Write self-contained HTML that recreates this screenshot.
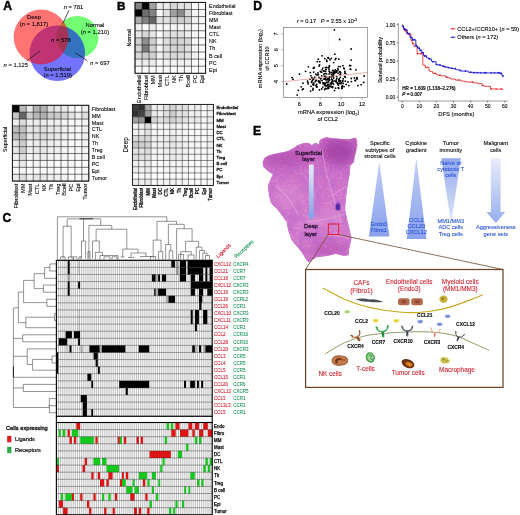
<!DOCTYPE html>
<html><head><meta charset="utf-8"><title>Figure</title>
<style>
html,body{margin:0;padding:0;background:#fff;}
body{width:520px;height:515px;overflow:hidden;font-family:"Liberation Sans",sans-serif;}
svg{display:block;font-family:"Liberation Sans",sans-serif;}
</style></head><body>
<svg width="520" height="515" viewBox="0 0 520 515">
<rect width="520" height="515" fill="#fff"/>
<g id="venn">
<circle cx="77.4" cy="37.1" r="21.1" fill="#00ff00" fill-opacity="0.55"/>
<circle cx="57.3" cy="53.2" r="27.8" fill="#0000ff" fill-opacity="0.55"/>
<circle cx="41.1" cy="37" r="27.4" fill="#ff0000" fill-opacity="0.55"/>
<g stroke="#111" stroke-width="0.7"><line x1="69" y1="10.2" x2="62.9" y2="23.3"/><line x1="26.6" y1="61" x2="40" y2="51"/><line x1="87.4" y1="60.7" x2="75.1" y2="52.6"/></g>
<text x="34.0" y="18.9" font-size="5.85" text-anchor="middle" stroke="#111" stroke-width="0.1">Deep</text>
<text x="34.0" y="26.2" font-size="5.85" text-anchor="middle" stroke="#111" stroke-width="0.1">(<tspan font-style="italic">n</tspan> = 1,817)</text>
<text x="94.9" y="26.6" font-size="5.85" text-anchor="middle" stroke="#111" stroke-width="0.1">Normal</text>
<text x="94.9" y="33.7" font-size="5.85" text-anchor="middle" stroke="#111" stroke-width="0.1">(<tspan font-style="italic">n</tspan> = 1,210)</text>
<text x="73.5" y="9.1" font-size="5.85" text-anchor="middle" stroke="#111" stroke-width="0.1"><tspan font-style="italic">n</tspan> = 781</text>
<text x="60.9" y="41.8" font-size="5.85" text-anchor="middle" stroke="#111" stroke-width="0.1"><tspan font-style="italic">n</tspan> = 578</text>
<text x="57.5" y="70.5" font-size="5.85" text-anchor="middle" stroke="#111" stroke-width="0.1">Superficial</text>
<text x="57.7" y="77.2" font-size="5.85" text-anchor="middle" stroke="#111" stroke-width="0.1">(<tspan font-style="italic">n</tspan> = 1,519)</text>
<text x="3.5" y="67.0" font-size="5.85" stroke="#111" stroke-width="0.1"><tspan font-style="italic">n</tspan> = 1,125</text>
<text x="90.1" y="65.1" font-size="5.85" stroke="#111" stroke-width="0.1"><tspan font-style="italic">n</tspan> = 697</text>
</g>
<g>
<rect x="135.00" y="2.40" width="7.06" height="7.09" fill="#828282"/>
<rect x="142.06" y="2.40" width="7.06" height="7.09" fill="#000000"/>
<rect x="149.12" y="2.40" width="7.06" height="7.09" fill="#a0a0a0"/>
<rect x="156.18" y="2.40" width="7.06" height="7.09" fill="#ebebeb"/>
<rect x="163.24" y="2.40" width="7.06" height="7.09" fill="#ebebeb"/>
<rect x="170.30" y="2.40" width="7.06" height="7.09" fill="#d7d7d7"/>
<rect x="177.36" y="2.40" width="7.06" height="7.09" fill="#e1e1e1"/>
<rect x="184.42" y="2.40" width="7.06" height="7.09" fill="#e1e1e1"/>
<rect x="191.48" y="2.40" width="7.06" height="7.09" fill="#fafafa"/>
<rect x="198.54" y="2.40" width="7.06" height="7.09" fill="#fafafa"/>
<rect x="135.00" y="9.49" width="7.06" height="7.09" fill="#000000"/>
<rect x="142.06" y="9.49" width="7.06" height="7.09" fill="#6e6e6e"/>
<rect x="149.12" y="9.49" width="7.06" height="7.09" fill="#828282"/>
<rect x="156.18" y="9.49" width="7.06" height="7.09" fill="#fafafa"/>
<rect x="163.24" y="9.49" width="7.06" height="7.09" fill="#e1e1e1"/>
<rect x="170.30" y="9.49" width="7.06" height="7.09" fill="#a0a0a0"/>
<rect x="177.36" y="9.49" width="7.06" height="7.09" fill="#8c8c8c"/>
<rect x="184.42" y="9.49" width="7.06" height="7.09" fill="#d7d7d7"/>
<rect x="191.48" y="9.49" width="7.06" height="7.09" fill="#f5f5f5"/>
<rect x="198.54" y="9.49" width="7.06" height="7.09" fill="#f5f5f5"/>
<rect x="135.00" y="16.58" width="7.06" height="7.09" fill="#aaaaaa"/>
<rect x="142.06" y="16.58" width="7.06" height="7.09" fill="#828282"/>
<rect x="149.12" y="16.58" width="7.06" height="7.09" fill="#646464"/>
<rect x="156.18" y="16.58" width="7.06" height="7.09" fill="#e1e1e1"/>
<rect x="163.24" y="16.58" width="7.06" height="7.09" fill="#e1e1e1"/>
<rect x="170.30" y="16.58" width="7.06" height="7.09" fill="#cdcdcd"/>
<rect x="177.36" y="16.58" width="7.06" height="7.09" fill="#cdcdcd"/>
<rect x="184.42" y="16.58" width="7.06" height="7.09" fill="#d2d2d2"/>
<rect x="191.48" y="16.58" width="7.06" height="7.09" fill="#f0f0f0"/>
<rect x="198.54" y="16.58" width="7.06" height="7.09" fill="#f5f5f5"/>
<rect x="135.00" y="23.67" width="7.06" height="7.09" fill="#f0f0f0"/>
<rect x="142.06" y="23.67" width="7.06" height="7.09" fill="#fafafa"/>
<rect x="149.12" y="23.67" width="7.06" height="7.09" fill="#ebebeb"/>
<rect x="156.18" y="23.67" width="7.06" height="7.09" fill="#fafafa"/>
<rect x="163.24" y="23.67" width="7.06" height="7.09" fill="#f5f5f5"/>
<rect x="170.30" y="23.67" width="7.06" height="7.09" fill="#f5f5f5"/>
<rect x="177.36" y="23.67" width="7.06" height="7.09" fill="#f5f5f5"/>
<rect x="184.42" y="23.67" width="7.06" height="7.09" fill="#f0f0f0"/>
<rect x="191.48" y="23.67" width="7.06" height="7.09" fill="#fafafa"/>
<rect x="198.54" y="23.67" width="7.06" height="7.09" fill="#fafafa"/>
<rect x="135.00" y="30.76" width="7.06" height="7.09" fill="#e6e6e6"/>
<rect x="142.06" y="30.76" width="7.06" height="7.09" fill="#d7d7d7"/>
<rect x="149.12" y="30.76" width="7.06" height="7.09" fill="#e6e6e6"/>
<rect x="156.18" y="30.76" width="7.06" height="7.09" fill="#fafafa"/>
<rect x="163.24" y="30.76" width="7.06" height="7.09" fill="#e6e6e6"/>
<rect x="170.30" y="30.76" width="7.06" height="7.09" fill="#e1e1e1"/>
<rect x="177.36" y="30.76" width="7.06" height="7.09" fill="#e1e1e1"/>
<rect x="184.42" y="30.76" width="7.06" height="7.09" fill="#ebebeb"/>
<rect x="191.48" y="30.76" width="7.06" height="7.09" fill="#f5f5f5"/>
<rect x="198.54" y="30.76" width="7.06" height="7.09" fill="#fafafa"/>
<rect x="135.00" y="37.85" width="7.06" height="7.09" fill="#d0d0d0"/>
<rect x="142.06" y="37.85" width="7.06" height="7.09" fill="#8e8e8e"/>
<rect x="149.12" y="37.85" width="7.06" height="7.09" fill="#d0d0d0"/>
<rect x="156.18" y="37.85" width="7.06" height="7.09" fill="#f5f5f5"/>
<rect x="163.24" y="37.85" width="7.06" height="7.09" fill="#dedede"/>
<rect x="170.30" y="37.85" width="7.06" height="7.09" fill="#d0d0d0"/>
<rect x="177.36" y="37.85" width="7.06" height="7.09" fill="#d4d4d4"/>
<rect x="184.42" y="37.85" width="7.06" height="7.09" fill="#d6d6d6"/>
<rect x="191.48" y="37.85" width="7.06" height="7.09" fill="#f5f5f5"/>
<rect x="198.54" y="37.85" width="7.06" height="7.09" fill="#fafafa"/>
<rect x="135.00" y="44.94" width="7.06" height="7.09" fill="#d4d4d4"/>
<rect x="142.06" y="44.94" width="7.06" height="7.09" fill="#7a7a7a"/>
<rect x="149.12" y="44.94" width="7.06" height="7.09" fill="#d0d0d0"/>
<rect x="156.18" y="44.94" width="7.06" height="7.09" fill="#f5f5f5"/>
<rect x="163.24" y="44.94" width="7.06" height="7.09" fill="#dedede"/>
<rect x="170.30" y="44.94" width="7.06" height="7.09" fill="#d4d4d4"/>
<rect x="177.36" y="44.94" width="7.06" height="7.09" fill="#d4d4d4"/>
<rect x="184.42" y="44.94" width="7.06" height="7.09" fill="#dedede"/>
<rect x="191.48" y="44.94" width="7.06" height="7.09" fill="#f5f5f5"/>
<rect x="198.54" y="44.94" width="7.06" height="7.09" fill="#fafafa"/>
<rect x="135.00" y="52.03" width="7.06" height="7.09" fill="#d7d7d7"/>
<rect x="142.06" y="52.03" width="7.06" height="7.09" fill="#cdcdcd"/>
<rect x="149.12" y="52.03" width="7.06" height="7.09" fill="#d2d2d2"/>
<rect x="156.18" y="52.03" width="7.06" height="7.09" fill="#f0f0f0"/>
<rect x="163.24" y="52.03" width="7.06" height="7.09" fill="#e1e1e1"/>
<rect x="170.30" y="52.03" width="7.06" height="7.09" fill="#d7d7d7"/>
<rect x="177.36" y="52.03" width="7.06" height="7.09" fill="#dcdcdc"/>
<rect x="184.42" y="52.03" width="7.06" height="7.09" fill="#e1e1e1"/>
<rect x="191.48" y="52.03" width="7.06" height="7.09" fill="#f0f0f0"/>
<rect x="198.54" y="52.03" width="7.06" height="7.09" fill="#fafafa"/>
<rect x="135.00" y="59.12" width="7.06" height="7.09" fill="#f0f0f0"/>
<rect x="142.06" y="59.12" width="7.06" height="7.09" fill="#ebebeb"/>
<rect x="149.12" y="59.12" width="7.06" height="7.09" fill="#ebebeb"/>
<rect x="156.18" y="59.12" width="7.06" height="7.09" fill="#fafafa"/>
<rect x="163.24" y="59.12" width="7.06" height="7.09" fill="#f0f0f0"/>
<rect x="170.30" y="59.12" width="7.06" height="7.09" fill="#f0f0f0"/>
<rect x="177.36" y="59.12" width="7.06" height="7.09" fill="#f0f0f0"/>
<rect x="184.42" y="59.12" width="7.06" height="7.09" fill="#f0f0f0"/>
<rect x="191.48" y="59.12" width="7.06" height="7.09" fill="#fafafa"/>
<rect x="198.54" y="59.12" width="7.06" height="7.09" fill="#fafafa"/>
<rect x="135.00" y="66.21" width="7.06" height="7.09" fill="#fafafa"/>
<rect x="142.06" y="66.21" width="7.06" height="7.09" fill="#fafafa"/>
<rect x="149.12" y="66.21" width="7.06" height="7.09" fill="#fafafa"/>
<rect x="163.24" y="66.21" width="7.06" height="7.09" fill="#fafafa"/>
<rect x="170.30" y="66.21" width="7.06" height="7.09" fill="#fafafa"/>
<rect x="177.36" y="66.21" width="7.06" height="7.09" fill="#fafafa"/>
<rect x="184.42" y="66.21" width="7.06" height="7.09" fill="#fafafa"/>
<path d="M135.00 2.40V73.30M135.00 2.40H205.60M142.06 2.40V73.30M135.00 9.49H205.60M149.12 2.40V73.30M135.00 16.58H205.60M156.18 2.40V73.30M135.00 23.67H205.60M163.24 2.40V73.30M135.00 30.76H205.60M170.30 2.40V73.30M135.00 37.85H205.60M177.36 2.40V73.30M135.00 44.94H205.60M184.42 2.40V73.30M135.00 52.03H205.60M191.48 2.40V73.30M135.00 59.12H205.60M198.54 2.40V73.30M135.00 66.21H205.60M205.60 2.40V73.30M135.00 73.30H205.60" stroke="#1a1a1a" stroke-width="0.6" fill="none"/>
<rect x="135.00" y="2.40" width="70.60" height="70.90" fill="none" stroke="#111" stroke-width="0.8999999999999999"/>
<text x="209.1" y="7.9" font-size="5.35" stroke="#111" stroke-width="0.1">Endothelial</text>
<text x="209.1" y="15.0" font-size="5.35" stroke="#111" stroke-width="0.1">Fibroblast</text>
<text x="209.1" y="22.1" font-size="5.35" stroke="#111" stroke-width="0.1">MM</text>
<text x="209.1" y="29.1" font-size="5.35" stroke="#111" stroke-width="0.1">Mast</text>
<text x="209.1" y="36.2" font-size="5.35" stroke="#111" stroke-width="0.1">CTL</text>
<text x="209.1" y="43.3" font-size="5.35" stroke="#111" stroke-width="0.1">NK</text>
<text x="209.1" y="50.4" font-size="5.35" stroke="#111" stroke-width="0.1">Th</text>
<text x="209.1" y="57.5" font-size="5.35" stroke="#111" stroke-width="0.1">B cell</text>
<text x="209.1" y="64.6" font-size="5.35" stroke="#111" stroke-width="0.1">PC</text>
<text x="209.1" y="71.7" font-size="5.35" stroke="#111" stroke-width="0.1">Epi</text>
<text x="140.6" y="75.2" font-size="5.65" text-anchor="end" transform="rotate(-90 140.6 75.2)" stroke="#111" stroke-width="0.1">Endothelial</text>
<text x="147.6" y="75.2" font-size="5.65" text-anchor="end" transform="rotate(-90 147.6 75.2)" stroke="#111" stroke-width="0.1">Fibroblast</text>
<text x="154.7" y="75.2" font-size="5.65" text-anchor="end" transform="rotate(-90 154.7 75.2)" stroke="#111" stroke-width="0.1">MM</text>
<text x="161.7" y="75.2" font-size="5.65" text-anchor="end" transform="rotate(-90 161.7 75.2)" stroke="#111" stroke-width="0.1">Mast</text>
<text x="168.8" y="75.2" font-size="5.65" text-anchor="end" transform="rotate(-90 168.8 75.2)" stroke="#111" stroke-width="0.1">CTL</text>
<text x="175.9" y="75.2" font-size="5.65" text-anchor="end" transform="rotate(-90 175.9 75.2)" stroke="#111" stroke-width="0.1">NK</text>
<text x="182.9" y="75.2" font-size="5.65" text-anchor="end" transform="rotate(-90 182.9 75.2)" stroke="#111" stroke-width="0.1">Th</text>
<text x="190.0" y="75.2" font-size="5.65" text-anchor="end" transform="rotate(-90 190.0 75.2)" stroke="#111" stroke-width="0.1">Bcell</text>
<text x="197.0" y="75.2" font-size="5.65" text-anchor="end" transform="rotate(-90 197.0 75.2)" stroke="#111" stroke-width="0.1">PC</text>
<text x="204.1" y="75.2" font-size="5.65" text-anchor="end" transform="rotate(-90 204.1 75.2)" stroke="#111" stroke-width="0.1">Epi</text>
<text x="130.6" y="37.9" font-size="5.4" text-anchor="middle" transform="rotate(-90 130.6 37.9)" stroke="#111" stroke-width="0.1">Normal</text>
</g>
<g>
<rect x="12.40" y="105.30" width="6.95" height="6.89" fill="#000000"/>
<rect x="19.35" y="105.30" width="6.95" height="6.89" fill="#b9b9b9"/>
<rect x="26.29" y="105.30" width="6.95" height="6.89" fill="#e8e8e8"/>
<rect x="33.24" y="105.30" width="6.95" height="6.89" fill="#b2b2b2"/>
<rect x="40.18" y="105.30" width="6.95" height="6.89" fill="#b4b4b4"/>
<rect x="47.13" y="105.30" width="6.95" height="6.89" fill="#dedede"/>
<rect x="54.07" y="105.30" width="6.95" height="6.89" fill="#e6e6e6"/>
<rect x="61.02" y="105.30" width="6.95" height="6.89" fill="#ececec"/>
<rect x="67.96" y="105.30" width="6.95" height="6.89" fill="#f5f5f5"/>
<rect x="74.91" y="105.30" width="6.95" height="6.89" fill="#fafafa"/>
<rect x="81.85" y="105.30" width="6.95" height="6.89" fill="#eeeeee"/>
<rect x="12.40" y="112.19" width="6.95" height="6.89" fill="#c6c6c6"/>
<rect x="19.35" y="112.19" width="6.95" height="6.89" fill="#646464"/>
<rect x="26.29" y="112.19" width="6.95" height="6.89" fill="#cdcdcd"/>
<rect x="33.24" y="112.19" width="6.95" height="6.89" fill="#b6b6b6"/>
<rect x="40.18" y="112.19" width="6.95" height="6.89" fill="#b0b0b0"/>
<rect x="47.13" y="112.19" width="6.95" height="6.89" fill="#cacaca"/>
<rect x="54.07" y="112.19" width="6.95" height="6.89" fill="#cacaca"/>
<rect x="61.02" y="112.19" width="6.95" height="6.89" fill="#d8d8d8"/>
<rect x="67.96" y="112.19" width="6.95" height="6.89" fill="#e4e4e4"/>
<rect x="74.91" y="112.19" width="6.95" height="6.89" fill="#eeeeee"/>
<rect x="81.85" y="112.19" width="6.95" height="6.89" fill="#dedede"/>
<rect x="12.40" y="119.08" width="6.95" height="6.89" fill="#f0f0f0"/>
<rect x="19.35" y="119.08" width="6.95" height="6.89" fill="#dadada"/>
<rect x="26.29" y="119.08" width="6.95" height="6.89" fill="#f0f0f0"/>
<rect x="33.24" y="119.08" width="6.95" height="6.89" fill="#eeeeee"/>
<rect x="40.18" y="119.08" width="6.95" height="6.89" fill="#eaeaea"/>
<rect x="47.13" y="119.08" width="6.95" height="6.89" fill="#f0f0f0"/>
<rect x="54.07" y="119.08" width="6.95" height="6.89" fill="#f0f0f0"/>
<rect x="61.02" y="119.08" width="6.95" height="6.89" fill="#f5f5f5"/>
<rect x="67.96" y="119.08" width="6.95" height="6.89" fill="#fafafa"/>
<rect x="74.91" y="119.08" width="6.95" height="6.89" fill="#fafafa"/>
<rect x="81.85" y="119.08" width="6.95" height="6.89" fill="#f5f5f5"/>
<rect x="12.40" y="125.97" width="6.95" height="6.89" fill="#bababa"/>
<rect x="19.35" y="125.97" width="6.95" height="6.89" fill="#c0c0c0"/>
<rect x="26.29" y="125.97" width="6.95" height="6.89" fill="#e8e8e8"/>
<rect x="33.24" y="125.97" width="6.95" height="6.89" fill="#e2e2e2"/>
<rect x="40.18" y="125.97" width="6.95" height="6.89" fill="#dedede"/>
<rect x="47.13" y="125.97" width="6.95" height="6.89" fill="#e8e8e8"/>
<rect x="54.07" y="125.97" width="6.95" height="6.89" fill="#eaeaea"/>
<rect x="61.02" y="125.97" width="6.95" height="6.89" fill="#f0f0f0"/>
<rect x="67.96" y="125.97" width="6.95" height="6.89" fill="#f5f5f5"/>
<rect x="74.91" y="125.97" width="6.95" height="6.89" fill="#fafafa"/>
<rect x="81.85" y="125.97" width="6.95" height="6.89" fill="#f0f0f0"/>
<rect x="12.40" y="132.86" width="6.95" height="6.89" fill="#bababa"/>
<rect x="19.35" y="132.86" width="6.95" height="6.89" fill="#bebebe"/>
<rect x="26.29" y="132.86" width="6.95" height="6.89" fill="#e8e8e8"/>
<rect x="33.24" y="132.86" width="6.95" height="6.89" fill="#dedede"/>
<rect x="40.18" y="132.86" width="6.95" height="6.89" fill="#dadada"/>
<rect x="47.13" y="132.86" width="6.95" height="6.89" fill="#e4e4e4"/>
<rect x="54.07" y="132.86" width="6.95" height="6.89" fill="#e8e8e8"/>
<rect x="61.02" y="132.86" width="6.95" height="6.89" fill="#eeeeee"/>
<rect x="67.96" y="132.86" width="6.95" height="6.89" fill="#f5f5f5"/>
<rect x="74.91" y="132.86" width="6.95" height="6.89" fill="#fafafa"/>
<rect x="81.85" y="132.86" width="6.95" height="6.89" fill="#f0f0f0"/>
<rect x="12.40" y="139.75" width="6.95" height="6.89" fill="#e1e1e1"/>
<rect x="19.35" y="139.75" width="6.95" height="6.89" fill="#cccccc"/>
<rect x="26.29" y="139.75" width="6.95" height="6.89" fill="#f0f0f0"/>
<rect x="33.24" y="139.75" width="6.95" height="6.89" fill="#eaeaea"/>
<rect x="40.18" y="139.75" width="6.95" height="6.89" fill="#e6e6e6"/>
<rect x="47.13" y="139.75" width="6.95" height="6.89" fill="#eeeeee"/>
<rect x="54.07" y="139.75" width="6.95" height="6.89" fill="#f0f0f0"/>
<rect x="61.02" y="139.75" width="6.95" height="6.89" fill="#f5f5f5"/>
<rect x="67.96" y="139.75" width="6.95" height="6.89" fill="#fafafa"/>
<rect x="74.91" y="139.75" width="6.95" height="6.89" fill="#fafafa"/>
<rect x="81.85" y="139.75" width="6.95" height="6.89" fill="#f5f5f5"/>
<rect x="12.40" y="146.65" width="6.95" height="6.89" fill="#e4e4e4"/>
<rect x="19.35" y="146.65" width="6.95" height="6.89" fill="#cccccc"/>
<rect x="26.29" y="146.65" width="6.95" height="6.89" fill="#f0f0f0"/>
<rect x="33.24" y="146.65" width="6.95" height="6.89" fill="#eaeaea"/>
<rect x="40.18" y="146.65" width="6.95" height="6.89" fill="#e8e8e8"/>
<rect x="47.13" y="146.65" width="6.95" height="6.89" fill="#eeeeee"/>
<rect x="54.07" y="146.65" width="6.95" height="6.89" fill="#f0f0f0"/>
<rect x="61.02" y="146.65" width="6.95" height="6.89" fill="#f5f5f5"/>
<rect x="67.96" y="146.65" width="6.95" height="6.89" fill="#fafafa"/>
<rect x="74.91" y="146.65" width="6.95" height="6.89" fill="#fafafa"/>
<rect x="81.85" y="146.65" width="6.95" height="6.89" fill="#f5f5f5"/>
<rect x="12.40" y="153.54" width="6.95" height="6.89" fill="#f0f0f0"/>
<rect x="19.35" y="153.54" width="6.95" height="6.89" fill="#dedede"/>
<rect x="26.29" y="153.54" width="6.95" height="6.89" fill="#f5f5f5"/>
<rect x="33.24" y="153.54" width="6.95" height="6.89" fill="#f0f0f0"/>
<rect x="40.18" y="153.54" width="6.95" height="6.89" fill="#eeeeee"/>
<rect x="47.13" y="153.54" width="6.95" height="6.89" fill="#f4f4f4"/>
<rect x="54.07" y="153.54" width="6.95" height="6.89" fill="#f5f5f5"/>
<rect x="61.02" y="153.54" width="6.95" height="6.89" fill="#f5f5f5"/>
<rect x="67.96" y="153.54" width="6.95" height="6.89" fill="#fafafa"/>
<rect x="74.91" y="153.54" width="6.95" height="6.89" fill="#fafafa"/>
<rect x="81.85" y="153.54" width="6.95" height="6.89" fill="#f5f5f5"/>
<rect x="12.40" y="160.43" width="6.95" height="6.89" fill="#f5f5f5"/>
<rect x="19.35" y="160.43" width="6.95" height="6.89" fill="#eaeaea"/>
<rect x="26.29" y="160.43" width="6.95" height="6.89" fill="#fafafa"/>
<rect x="33.24" y="160.43" width="6.95" height="6.89" fill="#f5f5f5"/>
<rect x="40.18" y="160.43" width="6.95" height="6.89" fill="#f5f5f5"/>
<rect x="47.13" y="160.43" width="6.95" height="6.89" fill="#fafafa"/>
<rect x="54.07" y="160.43" width="6.95" height="6.89" fill="#fafafa"/>
<rect x="61.02" y="160.43" width="6.95" height="6.89" fill="#fafafa"/>
<rect x="67.96" y="160.43" width="6.95" height="6.89" fill="#fafafa"/>
<rect x="81.85" y="160.43" width="6.95" height="6.89" fill="#fafafa"/>
<rect x="12.40" y="167.32" width="6.95" height="6.89" fill="#fafafa"/>
<rect x="19.35" y="167.32" width="6.95" height="6.89" fill="#f4f4f4"/>
<rect x="26.29" y="167.32" width="6.95" height="6.89" fill="#fafafa"/>
<rect x="33.24" y="167.32" width="6.95" height="6.89" fill="#fafafa"/>
<rect x="40.18" y="167.32" width="6.95" height="6.89" fill="#fafafa"/>
<rect x="47.13" y="167.32" width="6.95" height="6.89" fill="#fafafa"/>
<rect x="54.07" y="167.32" width="6.95" height="6.89" fill="#fafafa"/>
<rect x="61.02" y="167.32" width="6.95" height="6.89" fill="#fafafa"/>
<rect x="81.85" y="167.32" width="6.95" height="6.89" fill="#fafafa"/>
<rect x="12.40" y="174.21" width="6.95" height="6.89" fill="#eaeaea"/>
<rect x="19.35" y="174.21" width="6.95" height="6.89" fill="#dedede"/>
<rect x="26.29" y="174.21" width="6.95" height="6.89" fill="#f0f0f0"/>
<rect x="33.24" y="174.21" width="6.95" height="6.89" fill="#e6e6e6"/>
<rect x="40.18" y="174.21" width="6.95" height="6.89" fill="#e8e8e8"/>
<rect x="47.13" y="174.21" width="6.95" height="6.89" fill="#eeeeee"/>
<rect x="54.07" y="174.21" width="6.95" height="6.89" fill="#f0f0f0"/>
<rect x="61.02" y="174.21" width="6.95" height="6.89" fill="#f4f4f4"/>
<rect x="67.96" y="174.21" width="6.95" height="6.89" fill="#fafafa"/>
<rect x="74.91" y="174.21" width="6.95" height="6.89" fill="#fafafa"/>
<rect x="81.85" y="174.21" width="6.95" height="6.89" fill="#f0f0f0"/>
<path d="M12.40 105.30V181.10M12.40 105.30H88.80M19.35 105.30V181.10M12.40 112.19H88.80M26.29 105.30V181.10M12.40 119.08H88.80M33.24 105.30V181.10M12.40 125.97H88.80M40.18 105.30V181.10M12.40 132.86H88.80M47.13 105.30V181.10M12.40 139.75H88.80M54.07 105.30V181.10M12.40 146.65H88.80M61.02 105.30V181.10M12.40 153.54H88.80M67.96 105.30V181.10M12.40 160.43H88.80M74.91 105.30V181.10M12.40 167.32H88.80M81.85 105.30V181.10M12.40 174.21H88.80M88.80 105.30V181.10M12.40 181.10H88.80" stroke="#1a1a1a" stroke-width="0.6" fill="none"/>
<rect x="12.40" y="105.30" width="76.40" height="75.80" fill="none" stroke="#111" stroke-width="0.8999999999999999"/>
<text x="91.8" y="110.7" font-size="5.35" stroke="#111" stroke-width="0.1">Fibroblast</text>
<text x="91.8" y="117.6" font-size="5.35" stroke="#111" stroke-width="0.1">MM</text>
<text x="91.8" y="124.5" font-size="5.35" stroke="#111" stroke-width="0.1">Mast</text>
<text x="91.8" y="131.3" font-size="5.35" stroke="#111" stroke-width="0.1">CTL</text>
<text x="91.8" y="138.2" font-size="5.35" stroke="#111" stroke-width="0.1">NK</text>
<text x="91.8" y="145.1" font-size="5.35" stroke="#111" stroke-width="0.1">Th</text>
<text x="91.8" y="152.0" font-size="5.35" stroke="#111" stroke-width="0.1">Treg</text>
<text x="91.8" y="158.9" font-size="5.35" stroke="#111" stroke-width="0.1">B cell</text>
<text x="91.8" y="165.8" font-size="5.35" stroke="#111" stroke-width="0.1">PC</text>
<text x="91.8" y="172.7" font-size="5.35" stroke="#111" stroke-width="0.1">Epi</text>
<text x="91.8" y="179.6" font-size="5.35" stroke="#111" stroke-width="0.1">Tumor</text>
<text x="17.9" y="183.6" font-size="5.65" text-anchor="end" transform="rotate(-90 17.9 183.6)" stroke="#111" stroke-width="0.1">Fibroblast</text>
<text x="24.9" y="183.6" font-size="5.65" text-anchor="end" transform="rotate(-90 24.9 183.6)" stroke="#111" stroke-width="0.1">MM</text>
<text x="31.8" y="183.6" font-size="5.65" text-anchor="end" transform="rotate(-90 31.8 183.6)" stroke="#111" stroke-width="0.1">Mast</text>
<text x="38.7" y="183.6" font-size="5.65" text-anchor="end" transform="rotate(-90 38.7 183.6)" stroke="#111" stroke-width="0.1">CTL</text>
<text x="45.7" y="183.6" font-size="5.65" text-anchor="end" transform="rotate(-90 45.7 183.6)" stroke="#111" stroke-width="0.1">NK</text>
<text x="52.6" y="183.6" font-size="5.65" text-anchor="end" transform="rotate(-90 52.6 183.6)" stroke="#111" stroke-width="0.1">Th</text>
<text x="59.6" y="183.6" font-size="5.65" text-anchor="end" transform="rotate(-90 59.6 183.6)" stroke="#111" stroke-width="0.1">Treg</text>
<text x="66.5" y="183.6" font-size="5.65" text-anchor="end" transform="rotate(-90 66.5 183.6)" stroke="#111" stroke-width="0.1">Bcell</text>
<text x="73.5" y="183.6" font-size="5.65" text-anchor="end" transform="rotate(-90 73.5 183.6)" stroke="#111" stroke-width="0.1">PC</text>
<text x="80.4" y="183.6" font-size="5.65" text-anchor="end" transform="rotate(-90 80.4 183.6)" stroke="#111" stroke-width="0.1">Epi</text>
<text x="87.4" y="183.6" font-size="5.65" text-anchor="end" transform="rotate(-90 87.4 183.6)" stroke="#111" stroke-width="0.1">Tumor</text>
<text x="6.6" y="139.3" font-size="5.4" text-anchor="middle" transform="rotate(-90 6.6 139.3)" stroke="#111" stroke-width="0.1">Superficial</text>
</g>
<g>
<rect x="132.40" y="104.40" width="6.23" height="6.23" fill="#3c3c3c"/>
<rect x="138.63" y="104.40" width="6.23" height="6.23" fill="#323232"/>
<rect x="144.86" y="104.40" width="6.23" height="6.23" fill="#aaaaaa"/>
<rect x="151.09" y="104.40" width="6.23" height="6.23" fill="#ebebeb"/>
<rect x="157.32" y="104.40" width="6.23" height="6.23" fill="#f0f0f0"/>
<rect x="163.55" y="104.40" width="6.23" height="6.23" fill="#e1e1e1"/>
<rect x="169.78" y="104.40" width="6.23" height="6.23" fill="#d2d2d2"/>
<rect x="176.02" y="104.40" width="6.23" height="6.23" fill="#e1e1e1"/>
<rect x="182.25" y="104.40" width="6.23" height="6.23" fill="#dcdcdc"/>
<rect x="188.48" y="104.40" width="6.23" height="6.23" fill="#f0f0f0"/>
<rect x="194.71" y="104.40" width="6.23" height="6.23" fill="#ebebeb"/>
<rect x="200.94" y="104.40" width="6.23" height="6.23" fill="#fafafa"/>
<rect x="207.17" y="104.40" width="6.23" height="6.23" fill="#ebebeb"/>
<rect x="132.40" y="110.63" width="6.23" height="6.23" fill="#323232"/>
<rect x="138.63" y="110.63" width="6.23" height="6.23" fill="#464646"/>
<rect x="144.86" y="110.63" width="6.23" height="6.23" fill="#a0a0a0"/>
<rect x="151.09" y="110.63" width="6.23" height="6.23" fill="#ebebeb"/>
<rect x="157.32" y="110.63" width="6.23" height="6.23" fill="#f0f0f0"/>
<rect x="163.55" y="110.63" width="6.23" height="6.23" fill="#e1e1e1"/>
<rect x="169.78" y="110.63" width="6.23" height="6.23" fill="#cdcdcd"/>
<rect x="176.02" y="110.63" width="6.23" height="6.23" fill="#e1e1e1"/>
<rect x="182.25" y="110.63" width="6.23" height="6.23" fill="#e1e1e1"/>
<rect x="188.48" y="110.63" width="6.23" height="6.23" fill="#f0f0f0"/>
<rect x="194.71" y="110.63" width="6.23" height="6.23" fill="#f0f0f0"/>
<rect x="200.94" y="110.63" width="6.23" height="6.23" fill="#fafafa"/>
<rect x="207.17" y="110.63" width="6.23" height="6.23" fill="#f0f0f0"/>
<rect x="132.40" y="116.86" width="6.23" height="6.23" fill="#a0a0a0"/>
<rect x="138.63" y="116.86" width="6.23" height="6.23" fill="#969696"/>
<rect x="144.86" y="116.86" width="6.23" height="6.23" fill="#000000"/>
<rect x="151.09" y="116.86" width="6.23" height="6.23" fill="#d7d7d7"/>
<rect x="157.32" y="116.86" width="6.23" height="6.23" fill="#e1e1e1"/>
<rect x="163.55" y="116.86" width="6.23" height="6.23" fill="#d7d7d7"/>
<rect x="169.78" y="116.86" width="6.23" height="6.23" fill="#d2d2d2"/>
<rect x="176.02" y="116.86" width="6.23" height="6.23" fill="#dcdcdc"/>
<rect x="182.25" y="116.86" width="6.23" height="6.23" fill="#e1e1e1"/>
<rect x="188.48" y="116.86" width="6.23" height="6.23" fill="#ebebeb"/>
<rect x="194.71" y="116.86" width="6.23" height="6.23" fill="#ebebeb"/>
<rect x="200.94" y="116.86" width="6.23" height="6.23" fill="#f5f5f5"/>
<rect x="207.17" y="116.86" width="6.23" height="6.23" fill="#ebebeb"/>
<rect x="132.40" y="123.09" width="6.23" height="6.23" fill="#f0f0f0"/>
<rect x="138.63" y="123.09" width="6.23" height="6.23" fill="#ebebeb"/>
<rect x="144.86" y="123.09" width="6.23" height="6.23" fill="#dcdcdc"/>
<rect x="151.09" y="123.09" width="6.23" height="6.23" fill="#fafafa"/>
<rect x="157.32" y="123.09" width="6.23" height="6.23" fill="#f5f5f5"/>
<rect x="163.55" y="123.09" width="6.23" height="6.23" fill="#f5f5f5"/>
<rect x="169.78" y="123.09" width="6.23" height="6.23" fill="#f0f0f0"/>
<rect x="176.02" y="123.09" width="6.23" height="6.23" fill="#f5f5f5"/>
<rect x="182.25" y="123.09" width="6.23" height="6.23" fill="#f5f5f5"/>
<rect x="188.48" y="123.09" width="6.23" height="6.23" fill="#fafafa"/>
<rect x="194.71" y="123.09" width="6.23" height="6.23" fill="#fafafa"/>
<rect x="200.94" y="123.09" width="6.23" height="6.23" fill="#fafafa"/>
<rect x="207.17" y="123.09" width="6.23" height="6.23" fill="#f5f5f5"/>
<rect x="132.40" y="129.32" width="6.23" height="6.23" fill="#f0f0f0"/>
<rect x="138.63" y="129.32" width="6.23" height="6.23" fill="#f0f0f0"/>
<rect x="144.86" y="129.32" width="6.23" height="6.23" fill="#e1e1e1"/>
<rect x="151.09" y="129.32" width="6.23" height="6.23" fill="#f5f5f5"/>
<rect x="157.32" y="129.32" width="6.23" height="6.23" fill="#f5f5f5"/>
<rect x="163.55" y="129.32" width="6.23" height="6.23" fill="#f5f5f5"/>
<rect x="169.78" y="129.32" width="6.23" height="6.23" fill="#f0f0f0"/>
<rect x="176.02" y="129.32" width="6.23" height="6.23" fill="#f5f5f5"/>
<rect x="182.25" y="129.32" width="6.23" height="6.23" fill="#f5f5f5"/>
<rect x="188.48" y="129.32" width="6.23" height="6.23" fill="#fafafa"/>
<rect x="194.71" y="129.32" width="6.23" height="6.23" fill="#fafafa"/>
<rect x="200.94" y="129.32" width="6.23" height="6.23" fill="#fafafa"/>
<rect x="207.17" y="129.32" width="6.23" height="6.23" fill="#f5f5f5"/>
<rect x="132.40" y="135.55" width="6.23" height="6.23" fill="#d7d7d7"/>
<rect x="138.63" y="135.55" width="6.23" height="6.23" fill="#d7d7d7"/>
<rect x="144.86" y="135.55" width="6.23" height="6.23" fill="#d7d7d7"/>
<rect x="151.09" y="135.55" width="6.23" height="6.23" fill="#f0f0f0"/>
<rect x="157.32" y="135.55" width="6.23" height="6.23" fill="#f0f0f0"/>
<rect x="163.55" y="135.55" width="6.23" height="6.23" fill="#ebebeb"/>
<rect x="169.78" y="135.55" width="6.23" height="6.23" fill="#e6e6e6"/>
<rect x="176.02" y="135.55" width="6.23" height="6.23" fill="#f0f0f0"/>
<rect x="182.25" y="135.55" width="6.23" height="6.23" fill="#f0f0f0"/>
<rect x="188.48" y="135.55" width="6.23" height="6.23" fill="#f5f5f5"/>
<rect x="194.71" y="135.55" width="6.23" height="6.23" fill="#f5f5f5"/>
<rect x="200.94" y="135.55" width="6.23" height="6.23" fill="#fafafa"/>
<rect x="207.17" y="135.55" width="6.23" height="6.23" fill="#f0f0f0"/>
<rect x="132.40" y="141.78" width="6.23" height="6.23" fill="#c8c8c8"/>
<rect x="138.63" y="141.78" width="6.23" height="6.23" fill="#cdcdcd"/>
<rect x="144.86" y="141.78" width="6.23" height="6.23" fill="#d2d2d2"/>
<rect x="151.09" y="141.78" width="6.23" height="6.23" fill="#f0f0f0"/>
<rect x="157.32" y="141.78" width="6.23" height="6.23" fill="#f0f0f0"/>
<rect x="163.55" y="141.78" width="6.23" height="6.23" fill="#ebebeb"/>
<rect x="169.78" y="141.78" width="6.23" height="6.23" fill="#e6e6e6"/>
<rect x="176.02" y="141.78" width="6.23" height="6.23" fill="#ebebeb"/>
<rect x="182.25" y="141.78" width="6.23" height="6.23" fill="#f0f0f0"/>
<rect x="188.48" y="141.78" width="6.23" height="6.23" fill="#f5f5f5"/>
<rect x="194.71" y="141.78" width="6.23" height="6.23" fill="#f5f5f5"/>
<rect x="200.94" y="141.78" width="6.23" height="6.23" fill="#fafafa"/>
<rect x="207.17" y="141.78" width="6.23" height="6.23" fill="#f0f0f0"/>
<rect x="132.40" y="148.02" width="6.23" height="6.23" fill="#e1e1e1"/>
<rect x="138.63" y="148.02" width="6.23" height="6.23" fill="#e1e1e1"/>
<rect x="144.86" y="148.02" width="6.23" height="6.23" fill="#dcdcdc"/>
<rect x="151.09" y="148.02" width="6.23" height="6.23" fill="#f5f5f5"/>
<rect x="157.32" y="148.02" width="6.23" height="6.23" fill="#f5f5f5"/>
<rect x="163.55" y="148.02" width="6.23" height="6.23" fill="#f0f0f0"/>
<rect x="169.78" y="148.02" width="6.23" height="6.23" fill="#ebebeb"/>
<rect x="176.02" y="148.02" width="6.23" height="6.23" fill="#f0f0f0"/>
<rect x="182.25" y="148.02" width="6.23" height="6.23" fill="#f0f0f0"/>
<rect x="188.48" y="148.02" width="6.23" height="6.23" fill="#f5f5f5"/>
<rect x="194.71" y="148.02" width="6.23" height="6.23" fill="#f5f5f5"/>
<rect x="200.94" y="148.02" width="6.23" height="6.23" fill="#fafafa"/>
<rect x="207.17" y="148.02" width="6.23" height="6.23" fill="#f5f5f5"/>
<rect x="132.40" y="154.25" width="6.23" height="6.23" fill="#dcdcdc"/>
<rect x="138.63" y="154.25" width="6.23" height="6.23" fill="#e1e1e1"/>
<rect x="144.86" y="154.25" width="6.23" height="6.23" fill="#e1e1e1"/>
<rect x="151.09" y="154.25" width="6.23" height="6.23" fill="#f5f5f5"/>
<rect x="157.32" y="154.25" width="6.23" height="6.23" fill="#f5f5f5"/>
<rect x="163.55" y="154.25" width="6.23" height="6.23" fill="#f0f0f0"/>
<rect x="169.78" y="154.25" width="6.23" height="6.23" fill="#ebebeb"/>
<rect x="176.02" y="154.25" width="6.23" height="6.23" fill="#f0f0f0"/>
<rect x="182.25" y="154.25" width="6.23" height="6.23" fill="#f0f0f0"/>
<rect x="188.48" y="154.25" width="6.23" height="6.23" fill="#f5f5f5"/>
<rect x="194.71" y="154.25" width="6.23" height="6.23" fill="#f5f5f5"/>
<rect x="200.94" y="154.25" width="6.23" height="6.23" fill="#fafafa"/>
<rect x="207.17" y="154.25" width="6.23" height="6.23" fill="#f5f5f5"/>
<rect x="132.40" y="160.48" width="6.23" height="6.23" fill="#f0f0f0"/>
<rect x="138.63" y="160.48" width="6.23" height="6.23" fill="#f0f0f0"/>
<rect x="144.86" y="160.48" width="6.23" height="6.23" fill="#ebebeb"/>
<rect x="151.09" y="160.48" width="6.23" height="6.23" fill="#fafafa"/>
<rect x="157.32" y="160.48" width="6.23" height="6.23" fill="#fafafa"/>
<rect x="163.55" y="160.48" width="6.23" height="6.23" fill="#f5f5f5"/>
<rect x="169.78" y="160.48" width="6.23" height="6.23" fill="#f5f5f5"/>
<rect x="176.02" y="160.48" width="6.23" height="6.23" fill="#f5f5f5"/>
<rect x="182.25" y="160.48" width="6.23" height="6.23" fill="#f5f5f5"/>
<rect x="188.48" y="160.48" width="6.23" height="6.23" fill="#fafafa"/>
<rect x="194.71" y="160.48" width="6.23" height="6.23" fill="#fafafa"/>
<rect x="200.94" y="160.48" width="6.23" height="6.23" fill="#fafafa"/>
<rect x="207.17" y="160.48" width="6.23" height="6.23" fill="#f5f5f5"/>
<rect x="132.40" y="166.71" width="6.23" height="6.23" fill="#ebebeb"/>
<rect x="138.63" y="166.71" width="6.23" height="6.23" fill="#f0f0f0"/>
<rect x="144.86" y="166.71" width="6.23" height="6.23" fill="#ebebeb"/>
<rect x="151.09" y="166.71" width="6.23" height="6.23" fill="#fafafa"/>
<rect x="157.32" y="166.71" width="6.23" height="6.23" fill="#fafafa"/>
<rect x="163.55" y="166.71" width="6.23" height="6.23" fill="#f5f5f5"/>
<rect x="169.78" y="166.71" width="6.23" height="6.23" fill="#f5f5f5"/>
<rect x="176.02" y="166.71" width="6.23" height="6.23" fill="#f5f5f5"/>
<rect x="182.25" y="166.71" width="6.23" height="6.23" fill="#f5f5f5"/>
<rect x="188.48" y="166.71" width="6.23" height="6.23" fill="#fafafa"/>
<rect x="194.71" y="166.71" width="6.23" height="6.23" fill="#fafafa"/>
<rect x="207.17" y="166.71" width="6.23" height="6.23" fill="#fafafa"/>
<rect x="132.40" y="172.94" width="6.23" height="6.23" fill="#fafafa"/>
<rect x="138.63" y="172.94" width="6.23" height="6.23" fill="#fafafa"/>
<rect x="144.86" y="172.94" width="6.23" height="6.23" fill="#f5f5f5"/>
<rect x="163.55" y="172.94" width="6.23" height="6.23" fill="#fafafa"/>
<rect x="169.78" y="172.94" width="6.23" height="6.23" fill="#fafafa"/>
<rect x="176.02" y="172.94" width="6.23" height="6.23" fill="#fafafa"/>
<rect x="182.25" y="172.94" width="6.23" height="6.23" fill="#fafafa"/>
<rect x="207.17" y="172.94" width="6.23" height="6.23" fill="#fafafa"/>
<rect x="132.40" y="179.17" width="6.23" height="6.23" fill="#ebebeb"/>
<rect x="138.63" y="179.17" width="6.23" height="6.23" fill="#f0f0f0"/>
<rect x="144.86" y="179.17" width="6.23" height="6.23" fill="#ebebeb"/>
<rect x="151.09" y="179.17" width="6.23" height="6.23" fill="#fafafa"/>
<rect x="157.32" y="179.17" width="6.23" height="6.23" fill="#f5f5f5"/>
<rect x="163.55" y="179.17" width="6.23" height="6.23" fill="#f5f5f5"/>
<rect x="169.78" y="179.17" width="6.23" height="6.23" fill="#f0f0f0"/>
<rect x="176.02" y="179.17" width="6.23" height="6.23" fill="#f5f5f5"/>
<rect x="182.25" y="179.17" width="6.23" height="6.23" fill="#f5f5f5"/>
<rect x="188.48" y="179.17" width="6.23" height="6.23" fill="#fafafa"/>
<rect x="194.71" y="179.17" width="6.23" height="6.23" fill="#fafafa"/>
<rect x="200.94" y="179.17" width="6.23" height="6.23" fill="#fafafa"/>
<rect x="207.17" y="179.17" width="6.23" height="6.23" fill="#f5f5f5"/>
<path d="M132.40 104.40V185.40M132.40 104.40H213.40M138.63 104.40V185.40M132.40 110.63H213.40M144.86 104.40V185.40M132.40 116.86H213.40M151.09 104.40V185.40M132.40 123.09H213.40M157.32 104.40V185.40M132.40 129.32H213.40M163.55 104.40V185.40M132.40 135.55H213.40M169.78 104.40V185.40M132.40 141.78H213.40M176.02 104.40V185.40M132.40 148.02H213.40M182.25 104.40V185.40M132.40 154.25H213.40M188.48 104.40V185.40M132.40 160.48H213.40M194.71 104.40V185.40M132.40 166.71H213.40M200.94 104.40V185.40M132.40 172.94H213.40M207.17 104.40V185.40M132.40 179.17H213.40M213.40 104.40V185.40M132.40 185.40H213.40" stroke="#1a1a1a" stroke-width="0.5" fill="none"/>
<rect x="132.40" y="104.40" width="81.00" height="81.00" fill="none" stroke="#111" stroke-width="0.8"/>
<text x="216.4" y="109.1" font-size="4.4" stroke="#111" stroke-width="0.28">Endothelial</text>
<text x="216.4" y="115.3" font-size="4.4" stroke="#111" stroke-width="0.28">Fibroblast</text>
<text x="216.4" y="121.6" font-size="4.4" stroke="#111" stroke-width="0.28">MM</text>
<text x="216.4" y="127.8" font-size="4.4" stroke="#111" stroke-width="0.28">Mast</text>
<text x="216.4" y="134.0" font-size="4.4" stroke="#111" stroke-width="0.28">DC</text>
<text x="216.4" y="140.3" font-size="4.4" stroke="#111" stroke-width="0.28">CTL</text>
<text x="216.4" y="146.5" font-size="4.4" stroke="#111" stroke-width="0.28">NK</text>
<text x="216.4" y="152.7" font-size="4.4" stroke="#111" stroke-width="0.28">Th</text>
<text x="216.4" y="158.9" font-size="4.4" stroke="#111" stroke-width="0.28">Treg</text>
<text x="216.4" y="165.2" font-size="4.4" stroke="#111" stroke-width="0.28">B cell</text>
<text x="216.4" y="171.4" font-size="4.4" stroke="#111" stroke-width="0.28">PC</text>
<text x="216.4" y="177.6" font-size="4.4" stroke="#111" stroke-width="0.28">Epi</text>
<text x="216.4" y="183.9" font-size="4.4" stroke="#111" stroke-width="0.28">Tumor</text>
<text x="137.1" y="188.1" font-size="4.45" text-anchor="end" transform="rotate(-90 137.1 188.1)" stroke="#111" stroke-width="0.28">Endothelial</text>
<text x="143.3" y="188.1" font-size="4.45" text-anchor="end" transform="rotate(-90 143.3 188.1)" stroke="#111" stroke-width="0.28">Fibroblast</text>
<text x="149.6" y="188.1" font-size="4.45" text-anchor="end" transform="rotate(-90 149.6 188.1)" stroke="#111" stroke-width="0.28">MM</text>
<text x="155.8" y="188.1" font-size="4.45" text-anchor="end" transform="rotate(-90 155.8 188.1)" stroke="#111" stroke-width="0.28">Mast</text>
<text x="162.0" y="188.1" font-size="4.45" text-anchor="end" transform="rotate(-90 162.0 188.1)" stroke="#111" stroke-width="0.28">DC</text>
<text x="168.3" y="188.1" font-size="4.45" text-anchor="end" transform="rotate(-90 168.3 188.1)" stroke="#111" stroke-width="0.28">CTL</text>
<text x="174.5" y="188.1" font-size="4.45" text-anchor="end" transform="rotate(-90 174.5 188.1)" stroke="#111" stroke-width="0.28">NK</text>
<text x="180.7" y="188.1" font-size="4.45" text-anchor="end" transform="rotate(-90 180.7 188.1)" stroke="#111" stroke-width="0.28">Th</text>
<text x="187.0" y="188.1" font-size="4.45" text-anchor="end" transform="rotate(-90 187.0 188.1)" stroke="#111" stroke-width="0.28">Treg</text>
<text x="193.2" y="188.1" font-size="4.45" text-anchor="end" transform="rotate(-90 193.2 188.1)" stroke="#111" stroke-width="0.28">Bcell</text>
<text x="199.4" y="188.1" font-size="4.45" text-anchor="end" transform="rotate(-90 199.4 188.1)" stroke="#111" stroke-width="0.28">PC</text>
<text x="205.7" y="188.1" font-size="4.45" text-anchor="end" transform="rotate(-90 205.7 188.1)" stroke="#111" stroke-width="0.28">Epi</text>
<text x="211.9" y="188.1" font-size="4.45" text-anchor="end" transform="rotate(-90 211.9 188.1)" stroke="#111" stroke-width="0.28">Tumor</text>
<text x="128.3" y="144.9" font-size="6.4" text-anchor="middle" transform="rotate(-90 128.3 144.9)" stroke="#111" stroke-width="0.1">Deep</text>
</g>
<g id="panelC">
<path d="M57.4 216.8H166.8M57.4 216.8V259.5M67.2 218.9H100.7M67.2 218.9V226.2M63.1 226.2H71.2M63.1 226.2V258.5M71.2 226.2V258.5M83.5 218.9V241.0M81.5 241.0H85.6M81.5 241.0V258.5M85.6 241.0V258.5M100.7 218.9V225.4M88.9 225.4H111.8M88.9 225.4V258.5M87.9 251.6H90.0M87.9 251.6V259.5M90.0 251.6V259.5M111.8 225.4V229.2M96.1 229.2H126.8M96.1 229.2V241.0M92.5 241.0H99.3M92.5 241.0V258.5M99.3 241.0V252.4M95.4 252.4H102.6M95.4 252.4V259.5M102.6 252.4V255.5M100.0 255.5H118.0M100.0 255.5V259.5M118.0 255.5V259.5M126.8 229.2V249.1M122.7 249.1H138.0M122.7 249.1V257.0M120.5 257.0H124.5M138.0 249.1V253.0M131.0 253.0H146.0M131.0 253.0V257.0M146.0 253.0V256.5M140.0 256.5H152.0M128.0 257.5H134.0M60.5 256.8H65.0M60.5 256.8V259.5M65.0 256.8V259.5M68.5 256.8H73.0M68.5 256.8V259.5M73.0 256.8V259.5M73.5 256.8H77.0M73.5 256.8V259.5M77.0 256.8V259.5M79.0 256.8H81.0M79.0 256.8V259.5M81.0 256.8V259.5M104.0 256.8H110.0M104.0 256.8V259.5M110.0 256.8V259.5M112.0 256.8H117.0M112.0 256.8V259.5M117.0 256.8V259.5M166.8 216.8V221.3M157.0 221.3H176.6M157.0 221.3V240.1M153.2 240.1H161.0M153.2 240.1V258.5M161.0 240.1V251.6M158.6 251.6H162.7M158.6 251.6V259.5M162.7 251.6V259.5M176.6 221.3V224.3M168.4 224.3H184.2M168.4 224.3V244.5M165.6 244.5H170.8M165.6 244.5V259.5M170.8 244.5V250.8M169.2 250.8H172.8M169.2 250.8V259.5M172.8 250.8V259.5M184.2 224.3V228.7M176.6 228.7H192.1M176.6 228.7V259.5M192.1 228.7V241.3M185.6 241.3H198.6M185.6 241.3V251.6M180.7 251.6H191.3M180.7 251.6V259.5M191.3 251.6V255.0M188.0 255.0H194.0M188.0 255.0V259.5M194.0 255.0V259.5M178.5 254.5H183.5M178.5 254.5V259.5M183.5 254.5V259.5M198.6 241.3V247.2M196.2 247.2H201.9M196.2 247.2V259.5M201.9 247.2V250.5M199.5 250.5H204.5M199.5 250.5V259.5M204.5 250.5V253.0M202.8 253.0H207.0M202.8 253.0V259.5M207.0 253.0V255.5M205.5 255.5H209.5M205.5 255.5V259.5M209.5 255.5V259.5M150.5 256.5H155.5M150.5 256.5V259.5M155.5 256.5V259.5" stroke="#3a3a3a" stroke-width="0.55" fill="none"/><path d="M79.5 218.8H93" stroke="#222" stroke-width="0.9" fill="none"/>
<path d="M13.4 307.8V407.5M13.4 307.8H18.4M18.4 292.1V322.7M18.4 292.1H23.6M23.6 280.4V302.6M23.6 280.4H34.1M34.1 273.7V288.6M34.1 273.7H44.6M44.6 267.6V278.3M44.6 267.6H49.8M49.8 263.9V271.0M49.8 263.9H56.4M49.8 271.0H56.4M44.6 278.3H56.4M34.1 288.6H43.4M43.4 285.1V292.2M43.4 285.1H56.4M43.4 292.2H56.4M23.6 302.6H46.9M46.9 299.3V306.4M46.9 299.3H56.4M46.9 306.4H56.4M18.4 322.7H25.9M25.9 317.2V327.7M25.9 317.2H54.6M54.6 313.6V320.6M54.6 313.6H56.4M54.6 320.6H56.4M25.9 327.7H56.4M13.4 338.4H22.7M22.7 334.8V341.8M22.7 334.8H56.4M22.7 341.8H56.4M13.4 356.3H27.2M27.2 348.9V364.5M27.2 348.9H56.4M27.2 364.5H32.6M32.6 359.4V370.2M32.6 359.4H52.0M52.0 356.0V363.0M52.0 356.0H56.4M52.0 363.0H56.4M32.6 370.2H56.4M13.4 377.3H56.4M13.4 387.9H23.3M23.3 384.4V391.5M23.3 384.4H56.4M23.3 391.5H56.4M13.4 407.5H49.4M49.4 398.6V412.7M49.4 398.6H56.4M48.2 405.7H56.4M49.4 412.7H56.4" stroke="#3a3a3a" stroke-width="0.55" fill="none"/><path d="M13.4 366.4V377.3" stroke="#111" stroke-width="0.9" fill="none"/>
<rect x="56.40" y="260.30" width="155.80" height="155.98" fill="#fbfbfb"/>
<path d="M56.40 260.30V416.28M58.51 260.30V416.28M60.61 260.30V416.28M62.72 260.30V416.28M64.82 260.30V416.28M66.93 260.30V416.28M69.03 260.30V416.28M71.14 260.30V416.28M73.24 260.30V416.28M75.35 260.30V416.28M77.45 260.30V416.28M79.56 260.30V416.28M81.66 260.30V416.28M83.77 260.30V416.28M85.88 260.30V416.28M87.98 260.30V416.28M90.09 260.30V416.28M92.19 260.30V416.28M94.30 260.30V416.28M96.40 260.30V416.28M98.51 260.30V416.28M100.61 260.30V416.28M102.72 260.30V416.28M104.82 260.30V416.28M106.93 260.30V416.28M109.04 260.30V416.28M111.14 260.30V416.28M113.25 260.30V416.28M115.35 260.30V416.28M117.46 260.30V416.28M119.56 260.30V416.28M121.67 260.30V416.28M123.77 260.30V416.28M125.88 260.30V416.28M127.98 260.30V416.28M130.09 260.30V416.28M132.19 260.30V416.28M134.30 260.30V416.28M136.41 260.30V416.28M138.51 260.30V416.28M140.62 260.30V416.28M142.72 260.30V416.28M144.83 260.30V416.28M146.93 260.30V416.28M149.04 260.30V416.28M151.14 260.30V416.28M153.25 260.30V416.28M155.35 260.30V416.28M157.46 260.30V416.28M159.56 260.30V416.28M161.67 260.30V416.28M163.78 260.30V416.28M165.88 260.30V416.28M167.99 260.30V416.28M170.09 260.30V416.28M172.20 260.30V416.28M174.30 260.30V416.28M176.41 260.30V416.28M178.51 260.30V416.28M180.62 260.30V416.28M182.72 260.30V416.28M184.83 260.30V416.28M186.94 260.30V416.28M189.04 260.30V416.28M191.15 260.30V416.28M193.25 260.30V416.28M195.36 260.30V416.28M197.46 260.30V416.28M199.57 260.30V416.28M201.67 260.30V416.28M203.78 260.30V416.28M205.88 260.30V416.28M207.99 260.30V416.28M210.09 260.30V416.28M212.20 260.30V416.28" stroke="#111" stroke-width="0.26" fill="none"/>
<rect x="67.7" y="260.30" width="2.0" height="7.09" fill="#000"/>
<rect x="171.3" y="260.30" width="3.8" height="7.09" fill="#000"/>
<rect x="175.9" y="260.30" width="2.4" height="7.09" fill="#969696"/>
<rect x="179.8" y="260.30" width="6.2" height="7.09" fill="#000"/>
<rect x="187.6" y="260.30" width="24.6" height="7.09" fill="#000"/>
<rect x="78.6" y="260.30" width="1.0" height="7.09" fill="#a0a0a0"/>
<rect x="67.7" y="267.39" width="2.0" height="7.09" fill="#000"/>
<rect x="175.9" y="267.39" width="2.4" height="7.09" fill="#969696"/>
<rect x="179.8" y="267.39" width="6.2" height="7.09" fill="#000"/>
<rect x="187.6" y="267.39" width="15.5" height="7.09" fill="#000"/>
<rect x="205.4" y="267.39" width="1.9" height="7.09" fill="#000"/>
<rect x="209.6" y="267.39" width="2.6" height="7.09" fill="#000"/>
<rect x="78.6" y="267.39" width="1.0" height="7.09" fill="#a0a0a0"/>
<rect x="67.7" y="274.48" width="2.0" height="7.09" fill="#969696"/>
<rect x="151.9" y="274.48" width="3.8" height="7.09" fill="#000"/>
<rect x="155.7" y="274.48" width="2.4" height="7.09" fill="#aaaaaa"/>
<rect x="158.1" y="274.48" width="2.0" height="7.09" fill="#000"/>
<rect x="162.0" y="274.48" width="4.1" height="7.09" fill="#000"/>
<rect x="179.8" y="274.48" width="6.2" height="7.09" fill="#000"/>
<rect x="190.7" y="274.48" width="4.2" height="7.09" fill="#000"/>
<rect x="198.9" y="274.48" width="4.2" height="7.09" fill="#000"/>
<rect x="205.4" y="274.48" width="1.9" height="7.09" fill="#000"/>
<rect x="209.6" y="274.48" width="2.6" height="7.09" fill="#000"/>
<rect x="67.7" y="281.57" width="2.0" height="7.09" fill="#000"/>
<rect x="78.1" y="281.57" width="2.0" height="7.09" fill="#000"/>
<rect x="190.7" y="281.57" width="21.5" height="7.09" fill="#000"/>
<rect x="67.7" y="288.66" width="2.0" height="7.09" fill="#000"/>
<rect x="154.2" y="288.66" width="1.5" height="7.09" fill="#000"/>
<rect x="155.7" y="288.66" width="2.4" height="7.09" fill="#aaaaaa"/>
<rect x="158.1" y="288.66" width="8.0" height="7.09" fill="#000"/>
<rect x="190.7" y="288.66" width="4.2" height="7.09" fill="#000"/>
<rect x="198.9" y="288.66" width="4.2" height="7.09" fill="#000"/>
<rect x="207.3" y="288.66" width="4.9" height="7.09" fill="#000"/>
<rect x="166.1" y="295.75" width="2.4" height="7.09" fill="#aaaaaa"/>
<rect x="168.5" y="295.75" width="6.6" height="7.09" fill="#000"/>
<rect x="198.9" y="295.75" width="3.4" height="7.09" fill="#000"/>
<rect x="199.2" y="302.84" width="2.3" height="7.09" fill="#000"/>
<rect x="190.7" y="309.93" width="2.0" height="7.09" fill="#000"/>
<rect x="194.9" y="309.93" width="4.0" height="7.09" fill="#000"/>
<rect x="203.1" y="309.93" width="4.2" height="7.09" fill="#000"/>
<rect x="78.6" y="309.93" width="1.0" height="7.09" fill="#aaaaaa"/>
<rect x="190.7" y="317.02" width="2.0" height="7.09" fill="#000"/>
<rect x="194.9" y="317.02" width="4.0" height="7.09" fill="#000"/>
<rect x="203.1" y="317.02" width="4.2" height="7.09" fill="#000"/>
<rect x="78.6" y="317.02" width="1.0" height="7.09" fill="#aaaaaa"/>
<rect x="194.9" y="324.11" width="2.0" height="7.09" fill="#000"/>
<rect x="78.6" y="324.11" width="1.0" height="7.09" fill="#aaaaaa"/>
<rect x="65.6" y="331.20" width="6.3" height="7.09" fill="#000"/>
<rect x="73.9" y="331.20" width="6.2" height="7.09" fill="#000"/>
<rect x="58.7" y="338.29" width="8.5" height="7.09" fill="#000"/>
<rect x="78.1" y="338.29" width="2.0" height="7.09" fill="#000"/>
<rect x="65.6" y="345.38" width="2.1" height="7.09" fill="#bebebe"/>
<rect x="69.5" y="345.38" width="2.0" height="7.09" fill="#000"/>
<rect x="80.4" y="345.38" width="2.3" height="7.09" fill="#aaaaaa"/>
<rect x="89.4" y="345.38" width="10.4" height="7.09" fill="#000"/>
<rect x="99.8" y="345.38" width="2.0" height="7.09" fill="#aaaaaa"/>
<rect x="101.8" y="345.38" width="23.6" height="7.09" fill="#000"/>
<rect x="138.7" y="345.38" width="10.5" height="7.09" fill="#000"/>
<rect x="192.2" y="345.38" width="2.7" height="7.09" fill="#000"/>
<rect x="194.9" y="345.38" width="2.0" height="7.09" fill="#aaaaaa"/>
<rect x="198.9" y="345.38" width="2.2" height="7.09" fill="#000"/>
<rect x="203.1" y="345.38" width="2.3" height="7.09" fill="#aaaaaa"/>
<rect x="205.4" y="345.38" width="6.8" height="7.09" fill="#000"/>
<rect x="56.4" y="352.47" width="1.9" height="7.09" fill="#000"/>
<rect x="93.6" y="352.47" width="4.2" height="7.09" fill="#000"/>
<rect x="56.4" y="359.56" width="1.9" height="7.09" fill="#000"/>
<rect x="95.6" y="359.56" width="2.2" height="7.09" fill="#000"/>
<rect x="56.4" y="366.65" width="1.9" height="7.09" fill="#000"/>
<rect x="97.8" y="366.65" width="2.0" height="7.09" fill="#000"/>
<rect x="87.4" y="373.74" width="3.9" height="7.09" fill="#000"/>
<rect x="91.3" y="380.83" width="1.8" height="7.09" fill="#000"/>
<rect x="119.2" y="380.83" width="30.0" height="7.09" fill="#000"/>
<rect x="184.0" y="380.83" width="2.0" height="7.09" fill="#000"/>
<rect x="190.2" y="380.83" width="4.7" height="7.09" fill="#000"/>
<rect x="196.9" y="380.83" width="2.0" height="7.09" fill="#000"/>
<rect x="201.1" y="380.83" width="2.0" height="7.09" fill="#000"/>
<rect x="125.7" y="387.92" width="2.1" height="7.09" fill="#000"/>
<rect x="80.7" y="395.01" width="6.2" height="7.09" fill="#000"/>
<rect x="82.7" y="402.10" width="4.2" height="7.09" fill="#000"/>
<rect x="82.7" y="409.19" width="4.2" height="7.09" fill="#000"/>
<rect x="91.3" y="409.19" width="1.8" height="7.09" fill="#000"/>
<path d="M56.40 260.30H212.20M56.40 267.39H212.20M56.40 274.48H212.20M56.40 281.57H212.20M56.40 288.66H212.20M56.40 295.75H212.20M56.40 302.84H212.20M56.40 309.93H212.20M56.40 317.02H212.20M56.40 324.11H212.20M56.40 331.20H212.20M56.40 338.29H212.20M56.40 345.38H212.20M56.40 352.47H212.20M56.40 359.56H212.20M56.40 366.65H212.20M56.40 373.74H212.20M56.40 380.83H212.20M56.40 387.92H212.20M56.40 395.01H212.20M56.40 402.10H212.20M56.40 409.19H212.20M56.40 416.28H212.20" stroke="#111" stroke-width="0.36" fill="none"/>
<rect x="56.40" y="260.30" width="155.80" height="155.98" fill="none" stroke="#000" stroke-width="1.1"/>
<text x="213.9" y="265.5" font-size="4.5" fill="#d62436" stroke="#d62436" stroke-width="0.1">CXCL12</text>
<text x="233.2" y="265.5" font-size="4.5" fill="#22965c" stroke="#22965c" stroke-width="0.1">CXCR4</text>
<text x="213.9" y="272.6" font-size="4.5" fill="#d62436" stroke="#d62436" stroke-width="0.1">CCL21</text>
<text x="233.2" y="272.6" font-size="4.5" fill="#22965c" stroke="#22965c" stroke-width="0.1">CCR7</text>
<text x="213.9" y="279.7" font-size="4.5" fill="#d62436" stroke="#d62436" stroke-width="0.1">CCL19</text>
<text x="233.2" y="279.7" font-size="4.5" fill="#22965c" stroke="#22965c" stroke-width="0.1">CCR7</text>
<text x="213.9" y="286.8" font-size="4.5" fill="#d62436" stroke="#d62436" stroke-width="0.1">CXCL12</text>
<text x="233.2" y="286.8" font-size="4.5" fill="#22965c" stroke="#22965c" stroke-width="0.1">CXCR3</text>
<text x="213.9" y="293.9" font-size="4.5" fill="#d62436" stroke="#d62436" stroke-width="0.1">CCL19</text>
<text x="233.2" y="293.9" font-size="4.5" fill="#22965c" stroke="#22965c" stroke-width="0.1">CXCR3</text>
<text x="213.9" y="301.0" font-size="4.5" fill="#d62436" stroke="#d62436" stroke-width="0.1">CCL19</text>
<text x="233.2" y="301.0" font-size="4.5" fill="#22965c" stroke="#22965c" stroke-width="0.1">CCRL2</text>
<text x="213.9" y="308.1" font-size="4.5" fill="#d62436" stroke="#d62436" stroke-width="0.1">CCL26</text>
<text x="233.2" y="308.1" font-size="4.5" fill="#22965c" stroke="#22965c" stroke-width="0.1">CCR1</text>
<text x="213.9" y="315.2" font-size="4.5" fill="#d62436" stroke="#d62436" stroke-width="0.1">CXCL10</text>
<text x="233.2" y="315.2" font-size="4.5" fill="#22965c" stroke="#22965c" stroke-width="0.1">CXCR3</text>
<text x="213.9" y="322.3" font-size="4.5" fill="#d62436" stroke="#d62436" stroke-width="0.1">CXCL11</text>
<text x="233.2" y="322.3" font-size="4.5" fill="#22965c" stroke="#22965c" stroke-width="0.1">CXCR3</text>
<text x="213.9" y="329.4" font-size="4.5" fill="#d62436" stroke="#d62436" stroke-width="0.1">CCL14</text>
<text x="233.2" y="329.4" font-size="4.5" fill="#22965c" stroke="#22965c" stroke-width="0.1">CCR1</text>
<text x="213.9" y="336.4" font-size="4.5" fill="#d62436" stroke="#d62436" stroke-width="0.1">CCL2</text>
<text x="233.2" y="336.4" font-size="4.5" fill="#22965c" stroke="#22965c" stroke-width="0.1">CCR10</text>
<text x="213.9" y="343.5" font-size="4.5" fill="#d62436" stroke="#d62436" stroke-width="0.1">CCL28</text>
<text x="233.2" y="343.5" font-size="4.5" fill="#22965c" stroke="#22965c" stroke-width="0.1">CCR10</text>
<text x="213.9" y="350.6" font-size="4.5" fill="#d62436" stroke="#d62436" stroke-width="0.1">CCL20</text>
<text x="233.2" y="350.6" font-size="4.5" fill="#22965c" stroke="#22965c" stroke-width="0.1">CXCR3</text>
<text x="213.9" y="357.7" font-size="4.5" fill="#d62436" stroke="#d62436" stroke-width="0.1">CCL3</text>
<text x="233.2" y="357.7" font-size="4.5" fill="#22965c" stroke="#22965c" stroke-width="0.1">CCR5</text>
<text x="213.9" y="364.8" font-size="4.5" fill="#d62436" stroke="#d62436" stroke-width="0.1">CCL4</text>
<text x="233.2" y="364.8" font-size="4.5" fill="#22965c" stroke="#22965c" stroke-width="0.1">CCR5</text>
<text x="213.9" y="371.9" font-size="4.5" fill="#d62436" stroke="#d62436" stroke-width="0.1">CCL5</text>
<text x="233.2" y="371.9" font-size="4.5" fill="#22965c" stroke="#22965c" stroke-width="0.1">CCR5</text>
<text x="213.9" y="379.0" font-size="4.5" fill="#d62436" stroke="#d62436" stroke-width="0.1">CCL15</text>
<text x="233.2" y="379.0" font-size="4.5" fill="#22965c" stroke="#22965c" stroke-width="0.1">CCR1</text>
<text x="213.9" y="386.1" font-size="4.5" fill="#d62436" stroke="#d62436" stroke-width="0.1">CCL20</text>
<text x="233.2" y="386.1" font-size="4.5" fill="#22965c" stroke="#22965c" stroke-width="0.1">CCR6</text>
<text x="213.9" y="393.2" font-size="4.5" fill="#d62436" stroke="#d62436" stroke-width="0.1">CXCL13</text>
<text x="233.2" y="393.2" font-size="4.5" fill="#22965c" stroke="#22965c" stroke-width="0.1">CXCR5</text>
<text x="213.9" y="400.3" font-size="4.5" fill="#d62436" stroke="#d62436" stroke-width="0.1">CCL3</text>
<text x="233.2" y="400.3" font-size="4.5" fill="#22965c" stroke="#22965c" stroke-width="0.1">CCR1</text>
<text x="213.9" y="407.3" font-size="4.5" fill="#d62436" stroke="#d62436" stroke-width="0.1">CCL3L3</text>
<text x="233.2" y="407.3" font-size="4.5" fill="#22965c" stroke="#22965c" stroke-width="0.1">CCR1</text>
<text x="213.9" y="414.4" font-size="4.5" fill="#d62436" stroke="#d62436" stroke-width="0.1">CCL5</text>
<text x="233.2" y="414.4" font-size="4.5" fill="#22965c" stroke="#22965c" stroke-width="0.1">CCR1</text>
<text x="218.3" y="258.6" font-size="5.3" fill="#d01020" transform="rotate(-45 218.3 258.6)" stroke="#d01020" stroke-width="0.1">Ligands</text>
<text x="236.2" y="258.6" font-size="5.3" fill="#109050" transform="rotate(-43 236.2 258.6)" stroke="#109050" stroke-width="0.1">Receptors</text>
<rect x="56.40" y="422.50" width="155.80" height="92.30" fill="#fbfbfb"/>
<path d="M56.40 422.50V514.80M58.51 422.50V514.80M60.61 422.50V514.80M62.72 422.50V514.80M64.82 422.50V514.80M66.93 422.50V514.80M69.03 422.50V514.80M71.14 422.50V514.80M73.24 422.50V514.80M75.35 422.50V514.80M77.45 422.50V514.80M79.56 422.50V514.80M81.66 422.50V514.80M83.77 422.50V514.80M85.88 422.50V514.80M87.98 422.50V514.80M90.09 422.50V514.80M92.19 422.50V514.80M94.30 422.50V514.80M96.40 422.50V514.80M98.51 422.50V514.80M100.61 422.50V514.80M102.72 422.50V514.80M104.82 422.50V514.80M106.93 422.50V514.80M109.04 422.50V514.80M111.14 422.50V514.80M113.25 422.50V514.80M115.35 422.50V514.80M117.46 422.50V514.80M119.56 422.50V514.80M121.67 422.50V514.80M123.77 422.50V514.80M125.88 422.50V514.80M127.98 422.50V514.80M130.09 422.50V514.80M132.19 422.50V514.80M134.30 422.50V514.80M136.41 422.50V514.80M138.51 422.50V514.80M140.62 422.50V514.80M142.72 422.50V514.80M144.83 422.50V514.80M146.93 422.50V514.80M149.04 422.50V514.80M151.14 422.50V514.80M153.25 422.50V514.80M155.35 422.50V514.80M157.46 422.50V514.80M159.56 422.50V514.80M161.67 422.50V514.80M163.78 422.50V514.80M165.88 422.50V514.80M167.99 422.50V514.80M170.09 422.50V514.80M172.20 422.50V514.80M174.30 422.50V514.80M176.41 422.50V514.80M178.51 422.50V514.80M180.62 422.50V514.80M182.72 422.50V514.80M184.83 422.50V514.80M186.94 422.50V514.80M189.04 422.50V514.80M191.15 422.50V514.80M193.25 422.50V514.80M195.36 422.50V514.80M197.46 422.50V514.80M199.57 422.50V514.80M201.67 422.50V514.80M203.78 422.50V514.80M205.88 422.50V514.80M207.99 422.50V514.80M210.09 422.50V514.80M212.20 422.50V514.80" stroke="#111" stroke-width="0.26" fill="none"/>
<rect x="76.3" y="422.50" width="3.9" height="7.10" fill="#dc1414"/>
<rect x="166.6" y="422.50" width="2.4" height="7.10" fill="#14c81e"/>
<rect x="170.9" y="422.50" width="2.3" height="7.10" fill="#14c81e"/>
<rect x="175.4" y="422.50" width="4.2" height="7.10" fill="#dc1414"/>
<rect x="188.4" y="422.50" width="3.9" height="7.10" fill="#dc1414"/>
<rect x="194.8" y="422.50" width="4.2" height="7.10" fill="#dc1414"/>
<rect x="203.3" y="422.50" width="4.5" height="7.10" fill="#dc1414"/>
<rect x="58.9" y="429.60" width="1.9" height="7.10" fill="#14c81e"/>
<rect x="62.7" y="429.60" width="2.6" height="7.10" fill="#14c81e"/>
<rect x="67.6" y="429.60" width="2.3" height="7.10" fill="#dc1414"/>
<rect x="71.9" y="429.60" width="6.4" height="7.10" fill="#14c81e"/>
<rect x="171.3" y="429.60" width="4.4" height="7.10" fill="#dc1414"/>
<rect x="180.0" y="429.60" width="8.4" height="7.10" fill="#dc1414"/>
<rect x="192.3" y="429.60" width="2.5" height="7.10" fill="#dc1414"/>
<rect x="199.0" y="429.60" width="4.3" height="7.10" fill="#dc1414"/>
<rect x="207.8" y="429.60" width="4.4" height="7.10" fill="#dc1414"/>
<rect x="69.5" y="436.70" width="2.4" height="7.10" fill="#dc1414"/>
<rect x="74.0" y="436.70" width="2.3" height="7.10" fill="#dc1414"/>
<rect x="80.2" y="436.70" width="13.6" height="7.10" fill="#14c81e"/>
<rect x="95.4" y="436.70" width="2.3" height="7.10" fill="#dc1414"/>
<rect x="117.7" y="436.70" width="2.1" height="7.10" fill="#dc1414"/>
<rect x="119.8" y="436.70" width="2.2" height="7.10" fill="#14c81e"/>
<rect x="123.9" y="436.70" width="2.3" height="7.10" fill="#dc1414"/>
<rect x="136.5" y="436.70" width="2.4" height="7.10" fill="#dc1414"/>
<rect x="140.8" y="436.70" width="2.3" height="7.10" fill="#dc1414"/>
<rect x="164.7" y="436.70" width="2.3" height="7.10" fill="#14c81e"/>
<rect x="194.8" y="436.70" width="2.3" height="7.10" fill="#14c81e"/>
<rect x="199.0" y="436.70" width="2.4" height="7.10" fill="#14c81e"/>
<rect x="186.0" y="443.80" width="2.4" height="7.10" fill="#14c81e"/>
<rect x="149.5" y="450.90" width="21.4" height="7.10" fill="#dc1414"/>
<rect x="177.7" y="450.90" width="4.3" height="7.10" fill="#14c81e"/>
<rect x="56.4" y="458.00" width="2.5" height="7.10" fill="#14c81e"/>
<rect x="84.7" y="458.00" width="2.3" height="7.10" fill="#dc1414"/>
<rect x="93.4" y="458.00" width="6.6" height="7.10" fill="#14c81e"/>
<rect x="102.0" y="458.00" width="4.4" height="7.10" fill="#14c81e"/>
<rect x="162.5" y="458.00" width="2.2" height="7.10" fill="#14c81e"/>
<rect x="205.5" y="458.00" width="2.3" height="7.10" fill="#14c81e"/>
<rect x="209.7" y="458.00" width="2.5" height="7.10" fill="#14c81e"/>
<rect x="56.4" y="465.10" width="2.5" height="7.10" fill="#dc1414"/>
<rect x="82.5" y="465.10" width="2.6" height="7.10" fill="#dc1414"/>
<rect x="106.4" y="465.10" width="12.6" height="7.10" fill="#14c81e"/>
<rect x="160.2" y="465.10" width="2.3" height="7.10" fill="#14c81e"/>
<rect x="203.3" y="465.10" width="2.5" height="7.10" fill="#14c81e"/>
<rect x="207.8" y="465.10" width="2.3" height="7.10" fill="#14c81e"/>
<rect x="91.3" y="472.20" width="2.3" height="7.10" fill="#dc1414"/>
<rect x="97.7" y="472.20" width="2.3" height="7.10" fill="#dc1414"/>
<rect x="108.4" y="472.20" width="4.2" height="7.10" fill="#dc1414"/>
<rect x="122.0" y="472.20" width="1.9" height="7.10" fill="#dc1414"/>
<rect x="125.8" y="472.20" width="2.4" height="7.10" fill="#dc1414"/>
<rect x="138.9" y="472.20" width="8.3" height="7.10" fill="#14c81e"/>
<rect x="152.0" y="472.20" width="3.9" height="7.10" fill="#14c81e"/>
<rect x="190.3" y="472.20" width="4.5" height="7.10" fill="#14c81e"/>
<rect x="100.0" y="479.30" width="4.1" height="7.10" fill="#dc1414"/>
<rect x="106.4" y="479.30" width="2.4" height="7.10" fill="#dc1414"/>
<rect x="120.0" y="479.30" width="2.0" height="7.10" fill="#dc1414"/>
<rect x="122.0" y="479.30" width="3.8" height="7.10" fill="#14c81e"/>
<rect x="132.6" y="479.30" width="2.0" height="7.10" fill="#14c81e"/>
<rect x="142.9" y="479.30" width="2.4" height="7.10" fill="#dc1414"/>
<rect x="147.4" y="479.30" width="2.3" height="7.10" fill="#14c81e"/>
<rect x="158.3" y="479.30" width="1.9" height="7.10" fill="#14c81e"/>
<rect x="197.1" y="479.30" width="2.3" height="7.10" fill="#14c81e"/>
<rect x="201.4" y="479.30" width="2.1" height="7.10" fill="#14c81e"/>
<rect x="126.2" y="486.40" width="6.2" height="7.10" fill="#14c81e"/>
<rect x="134.6" y="486.40" width="4.3" height="7.10" fill="#14c81e"/>
<rect x="151.9" y="486.40" width="2.1" height="7.10" fill="#14c81e"/>
<rect x="184.1" y="486.40" width="1.9" height="7.10" fill="#14c81e"/>
<rect x="188.4" y="486.40" width="1.9" height="7.10" fill="#14c81e"/>
<rect x="60.8" y="493.50" width="2.3" height="7.10" fill="#14c81e"/>
<rect x="65.3" y="493.50" width="6.6" height="7.10" fill="#14c81e"/>
<rect x="71.9" y="493.50" width="2.1" height="7.10" fill="#dc1414"/>
<rect x="80.2" y="493.50" width="2.3" height="7.10" fill="#dc1414"/>
<rect x="93.4" y="493.50" width="2.3" height="7.10" fill="#dc1414"/>
<rect x="102.0" y="493.50" width="2.1" height="7.10" fill="#14c81e"/>
<rect x="108.4" y="493.50" width="2.3" height="7.10" fill="#14c81e"/>
<rect x="114.8" y="493.50" width="2.3" height="7.10" fill="#dc1414"/>
<rect x="130.3" y="493.50" width="4.3" height="7.10" fill="#dc1414"/>
<rect x="145.3" y="493.50" width="2.3" height="7.10" fill="#dc1414"/>
<rect x="155.9" y="493.50" width="2.4" height="7.10" fill="#14c81e"/>
<rect x="58.9" y="500.60" width="4.2" height="7.10" fill="#dc1414"/>
<rect x="87.0" y="500.60" width="2.3" height="7.10" fill="#dc1414"/>
<rect x="149.5" y="500.60" width="2.4" height="7.10" fill="#14c81e"/>
<rect x="175.4" y="500.60" width="2.3" height="7.10" fill="#14c81e"/>
<rect x="182.0" y="500.60" width="2.1" height="7.10" fill="#14c81e"/>
<rect x="63.1" y="507.70" width="4.5" height="7.10" fill="#dc1414"/>
<rect x="89.0" y="507.70" width="2.3" height="7.10" fill="#dc1414"/>
<rect x="104.1" y="507.70" width="2.3" height="7.10" fill="#dc1414"/>
<rect x="112.6" y="507.70" width="2.2" height="7.10" fill="#dc1414"/>
<rect x="134.6" y="507.70" width="2.3" height="7.10" fill="#dc1414"/>
<rect x="138.9" y="507.70" width="2.3" height="7.10" fill="#dc1414"/>
<rect x="147.2" y="507.70" width="2.3" height="7.10" fill="#dc1414"/>
<rect x="134.0" y="507.70" width="2.3" height="7.10" fill="#dc1414"/>
<rect x="169.0" y="507.70" width="2.3" height="7.10" fill="#14c81e"/>
<rect x="173.2" y="507.70" width="2.2" height="7.10" fill="#14c81e"/>
<path d="M56.40 422.50H212.20M56.40 429.60H212.20M56.40 436.70H212.20M56.40 443.80H212.20M56.40 450.90H212.20M56.40 458.00H212.20M56.40 465.10H212.20M56.40 472.20H212.20M56.40 479.30H212.20M56.40 486.40H212.20M56.40 493.50H212.20M56.40 500.60H212.20M56.40 507.70H212.20M56.40 514.80H212.20" stroke="#111" stroke-width="0.36" fill="none"/>
<rect x="56.40" y="422.50" width="155.80" height="92.30" fill="none" stroke="#000" stroke-width="1.1"/>
<path d="M56.40 416.28V422.50M212.20 416.28V422.50" stroke="#000" stroke-width="1.1"/>
<text x="214.0" y="427.8" font-size="4.45" stroke="#111" stroke-width="0.25">Endo</text>
<text x="214.0" y="434.8" font-size="4.45" stroke="#111" stroke-width="0.25">Fibro</text>
<text x="214.0" y="441.9" font-size="4.45" stroke="#111" stroke-width="0.25">MM</text>
<text x="214.0" y="449.1" font-size="4.45" stroke="#111" stroke-width="0.25">Mast</text>
<text x="214.0" y="456.1" font-size="4.45" stroke="#111" stroke-width="0.25">DC</text>
<text x="214.0" y="463.2" font-size="4.45" stroke="#111" stroke-width="0.25">CTL</text>
<text x="214.0" y="470.3" font-size="4.45" stroke="#111" stroke-width="0.25">NK</text>
<text x="214.0" y="477.4" font-size="4.45" stroke="#111" stroke-width="0.25">Th</text>
<text x="214.0" y="484.6" font-size="4.45" stroke="#111" stroke-width="0.25">Treg</text>
<text x="214.0" y="491.6" font-size="4.45" stroke="#111" stroke-width="0.25">B cell</text>
<text x="214.0" y="498.8" font-size="4.45" stroke="#111" stroke-width="0.25">PC</text>
<text x="214.0" y="505.8" font-size="4.45" stroke="#111" stroke-width="0.25">Epi</text>
<text x="214.0" y="513.0" font-size="4.45" stroke="#111" stroke-width="0.25">Tumor</text>
<text x="6.0" y="429.6" font-size="5.7" stroke="#111" stroke-width="0.3">Cells expressing</text>
<rect x="7.2" y="435.9" width="4.2" height="6.4" fill="#e01c1c"/>
<text x="15.0" y="441.0" font-size="5.7" stroke="#111" stroke-width="0.2">Ligands</text>
<rect x="7.2" y="446.8" width="4.2" height="6.4" fill="#2aa84c"/>
<text x="15.0" y="452.0" font-size="5.7" stroke="#111" stroke-width="0.2">Receptors</text>
</g>
<g id="scatter">
<line x1="329" y1="27.5" x2="329" y2="57" stroke="#dcdcdc" stroke-width="0.45"/>
<g fill="#000">
<circle cx="325.5" cy="83.5" r="0.92"/>
<circle cx="344.9" cy="71.4" r="0.92"/>
<circle cx="344.9" cy="73.0" r="0.92"/>
<circle cx="324.2" cy="78.8" r="0.92"/>
<circle cx="305.6" cy="71.3" r="0.92"/>
<circle cx="332.5" cy="87.5" r="0.92"/>
<circle cx="316.6" cy="84.3" r="0.92"/>
<circle cx="355.9" cy="69.8" r="0.92"/>
<circle cx="333.5" cy="74.6" r="0.92"/>
<circle cx="332.7" cy="83.1" r="0.92"/>
<circle cx="320.4" cy="71.3" r="0.92"/>
<circle cx="333.7" cy="78.1" r="0.92"/>
<circle cx="322.8" cy="68.1" r="0.92"/>
<circle cx="315.8" cy="74.2" r="0.92"/>
<circle cx="335.2" cy="59.6" r="0.92"/>
<circle cx="313.7" cy="85.0" r="0.92"/>
<circle cx="327.6" cy="85.0" r="0.92"/>
<circle cx="340.0" cy="83.0" r="0.92"/>
<circle cx="338.6" cy="66.6" r="0.92"/>
<circle cx="317.3" cy="61.6" r="0.92"/>
<circle cx="337.8" cy="82.8" r="0.92"/>
<circle cx="313.7" cy="72.1" r="0.92"/>
<circle cx="326.6" cy="82.3" r="0.92"/>
<circle cx="326.1" cy="85.9" r="0.92"/>
<circle cx="344.7" cy="76.6" r="0.92"/>
<circle cx="332.8" cy="81.3" r="0.92"/>
<circle cx="336.5" cy="72.2" r="0.92"/>
<circle cx="333.1" cy="76.0" r="0.92"/>
<circle cx="301.2" cy="86.8" r="0.92"/>
<circle cx="336.6" cy="71.4" r="0.92"/>
<circle cx="310.6" cy="91.1" r="0.92"/>
<circle cx="334.3" cy="73.0" r="0.92"/>
<circle cx="330.8" cy="86.4" r="0.92"/>
<circle cx="329.0" cy="79.2" r="0.92"/>
<circle cx="316.7" cy="86.8" r="0.92"/>
<circle cx="322.9" cy="87.1" r="0.92"/>
<circle cx="327.0" cy="82.2" r="0.92"/>
<circle cx="334.5" cy="90.6" r="0.92"/>
<circle cx="318.0" cy="73.0" r="0.92"/>
<circle cx="325.8" cy="77.1" r="0.92"/>
<circle cx="331.3" cy="72.4" r="0.92"/>
<circle cx="329.4" cy="80.3" r="0.92"/>
<circle cx="339.9" cy="71.6" r="0.92"/>
<circle cx="342.9" cy="65.7" r="0.92"/>
<circle cx="329.0" cy="67.9" r="0.92"/>
<circle cx="348.8" cy="85.6" r="0.92"/>
<circle cx="313.3" cy="78.8" r="0.92"/>
<circle cx="339.5" cy="71.9" r="0.92"/>
<circle cx="333.1" cy="72.9" r="0.92"/>
<circle cx="345.7" cy="73.6" r="0.92"/>
<circle cx="326.0" cy="79.9" r="0.92"/>
<circle cx="357.1" cy="78.9" r="0.92"/>
<circle cx="328.2" cy="67.6" r="0.92"/>
<circle cx="331.5" cy="86.7" r="0.92"/>
<circle cx="324.3" cy="84.3" r="0.92"/>
<circle cx="356.7" cy="78.5" r="0.92"/>
<circle cx="338.8" cy="59.2" r="0.92"/>
<circle cx="316.0" cy="80.4" r="0.92"/>
<circle cx="340.4" cy="77.3" r="0.92"/>
<circle cx="312.9" cy="84.6" r="0.92"/>
<circle cx="336.6" cy="76.6" r="0.92"/>
<circle cx="338.2" cy="87.8" r="0.92"/>
<circle cx="313.3" cy="68.2" r="0.92"/>
<circle cx="308.4" cy="66.8" r="0.92"/>
<circle cx="302.9" cy="83.2" r="0.92"/>
<circle cx="313.0" cy="79.1" r="0.92"/>
<circle cx="316.8" cy="87.0" r="0.92"/>
<circle cx="326.6" cy="60.1" r="0.92"/>
<circle cx="321.7" cy="75.8" r="0.92"/>
<circle cx="334.9" cy="80.8" r="0.92"/>
<circle cx="321.7" cy="89.0" r="0.92"/>
<circle cx="326.6" cy="73.8" r="0.92"/>
<circle cx="326.9" cy="61.4" r="0.92"/>
<circle cx="325.4" cy="67.6" r="0.92"/>
<circle cx="323.0" cy="82.7" r="0.92"/>
<circle cx="320.5" cy="78.6" r="0.92"/>
<circle cx="339.2" cy="79.6" r="0.92"/>
<circle cx="343.8" cy="68.2" r="0.92"/>
<circle cx="322.1" cy="55.8" r="0.92"/>
<circle cx="313.8" cy="68.1" r="0.92"/>
<circle cx="320.9" cy="78.7" r="0.92"/>
<circle cx="328.7" cy="79.9" r="0.92"/>
<circle cx="330.3" cy="83.1" r="0.92"/>
<circle cx="343.3" cy="83.4" r="0.92"/>
<circle cx="324.8" cy="58.6" r="0.92"/>
<circle cx="320.7" cy="71.8" r="0.92"/>
<circle cx="325.2" cy="78.6" r="0.92"/>
<circle cx="312.5" cy="80.3" r="0.92"/>
<circle cx="310.9" cy="75.8" r="0.92"/>
<circle cx="307.5" cy="81.1" r="0.92"/>
<circle cx="313.4" cy="83.3" r="0.92"/>
<circle cx="328.0" cy="87.4" r="0.92"/>
<circle cx="333.3" cy="73.7" r="0.92"/>
<circle cx="324.0" cy="79.1" r="0.92"/>
<circle cx="348.0" cy="81.9" r="0.92"/>
<circle cx="335.7" cy="81.6" r="0.92"/>
<circle cx="324.9" cy="83.4" r="0.92"/>
<circle cx="338.9" cy="80.1" r="0.92"/>
<circle cx="316.0" cy="85.5" r="0.92"/>
<circle cx="333.3" cy="73.0" r="0.92"/>
<circle cx="316.3" cy="80.5" r="0.92"/>
<circle cx="319.7" cy="61.7" r="0.92"/>
<circle cx="314.8" cy="77.1" r="0.92"/>
<circle cx="319.5" cy="64.9" r="0.92"/>
<circle cx="345.3" cy="81.2" r="0.92"/>
<circle cx="328.0" cy="57.7" r="0.92"/>
<circle cx="335.2" cy="70.0" r="0.92"/>
<circle cx="339.9" cy="81.0" r="0.92"/>
<circle cx="319.2" cy="66.1" r="0.92"/>
<circle cx="320.2" cy="82.9" r="0.92"/>
<circle cx="331.7" cy="82.0" r="0.92"/>
<circle cx="331.6" cy="86.6" r="0.92"/>
<circle cx="310.1" cy="79.3" r="0.92"/>
<circle cx="325.0" cy="85.5" r="0.92"/>
<circle cx="332.8" cy="70.4" r="0.92"/>
<circle cx="324.2" cy="71.1" r="0.92"/>
<circle cx="327.4" cy="78.3" r="0.92"/>
<circle cx="333.0" cy="75.6" r="0.92"/>
<circle cx="340.3" cy="80.8" r="0.92"/>
<circle cx="345.3" cy="77.2" r="0.92"/>
<circle cx="331.4" cy="58.3" r="0.92"/>
<circle cx="331.4" cy="74.5" r="0.92"/>
<circle cx="344.0" cy="86.6" r="0.92"/>
<circle cx="330.0" cy="59.7" r="0.92"/>
<circle cx="328.2" cy="86.1" r="0.92"/>
<circle cx="351.4" cy="81.6" r="0.92"/>
<circle cx="318.3" cy="74.8" r="0.92"/>
<circle cx="331.6" cy="79.5" r="0.92"/>
<circle cx="318.3" cy="59.2" r="0.92"/>
<circle cx="342.9" cy="81.0" r="0.92"/>
<circle cx="319.0" cy="77.5" r="0.92"/>
<circle cx="344.2" cy="68.8" r="0.92"/>
<circle cx="332.8" cy="86.7" r="0.92"/>
<circle cx="326.1" cy="69.3" r="0.92"/>
<circle cx="326.5" cy="67.4" r="0.92"/>
<circle cx="329.2" cy="71.3" r="0.92"/>
<circle cx="329.0" cy="69.8" r="0.92"/>
<circle cx="329.5" cy="77.2" r="0.92"/>
<circle cx="331.6" cy="76.8" r="0.92"/>
<circle cx="338.8" cy="88.2" r="0.92"/>
<circle cx="324.8" cy="83.2" r="0.92"/>
<circle cx="342.5" cy="86.0" r="0.92"/>
<circle cx="355.0" cy="80.4" r="0.92"/>
<circle cx="313.1" cy="88.4" r="0.92"/>
<circle cx="340.2" cy="66.6" r="0.92"/>
<circle cx="342.1" cy="87.4" r="0.92"/>
<circle cx="303.3" cy="88.9" r="0.92"/>
<circle cx="325.6" cy="71.6" r="0.92"/>
<circle cx="338.1" cy="69.9" r="0.92"/>
<circle cx="338.4" cy="85.3" r="0.92"/>
<circle cx="314.2" cy="67.4" r="0.92"/>
<circle cx="354.4" cy="77.9" r="0.92"/>
<circle cx="311.6" cy="82.4" r="0.92"/>
<circle cx="350.3" cy="69.2" r="0.92"/>
<circle cx="339.1" cy="81.2" r="0.92"/>
<circle cx="335.6" cy="88.2" r="0.92"/>
<circle cx="315.3" cy="81.4" r="0.92"/>
<circle cx="319.4" cy="89.9" r="0.92"/>
<circle cx="325.6" cy="76.5" r="0.92"/>
<circle cx="328.6" cy="58.2" r="0.92"/>
<circle cx="327.1" cy="79.7" r="0.92"/>
<circle cx="326.7" cy="88.7" r="0.92"/>
<circle cx="323.9" cy="70.9" r="0.92"/>
<circle cx="313.7" cy="78.7" r="0.92"/>
<circle cx="336.5" cy="81.8" r="0.92"/>
<circle cx="331.6" cy="79.1" r="0.92"/>
<circle cx="328.0" cy="84.2" r="0.92"/>
<circle cx="333.7" cy="62.6" r="0.92"/>
<circle cx="323.9" cy="74.1" r="0.92"/>
<circle cx="313.9" cy="83.1" r="0.92"/>
<circle cx="319.3" cy="82.6" r="0.92"/>
<circle cx="329.4" cy="65.6" r="0.92"/>
<circle cx="329.9" cy="72.4" r="0.92"/>
<circle cx="339.2" cy="78.9" r="0.92"/>
<circle cx="328.4" cy="81.9" r="0.92"/>
<circle cx="323.1" cy="83.7" r="0.92"/>
<circle cx="299.5" cy="74.2" r="0.92"/>
<circle cx="339.3" cy="83.6" r="0.92"/>
<circle cx="322.0" cy="80.5" r="0.92"/>
<circle cx="333.5" cy="74.3" r="0.92"/>
<circle cx="319.1" cy="81.5" r="0.92"/>
<circle cx="340.2" cy="74.4" r="0.92"/>
<circle cx="341.8" cy="86.4" r="0.92"/>
<circle cx="311.8" cy="81.4" r="0.92"/>
<circle cx="324.7" cy="89.5" r="0.92"/>
<circle cx="336.3" cy="80.0" r="0.92"/>
<circle cx="333.5" cy="84.2" r="0.92"/>
<circle cx="340.6" cy="72.6" r="0.92"/>
<circle cx="351.3" cy="78.5" r="0.92"/>
<circle cx="349.7" cy="65.5" r="0.92"/>
<circle cx="324.2" cy="76.1" r="0.92"/>
<circle cx="337.3" cy="83.3" r="0.92"/>
<circle cx="329.3" cy="86.3" r="0.92"/>
<circle cx="328.8" cy="78.3" r="0.92"/>
<circle cx="334.9" cy="71.4" r="0.92"/>
<circle cx="334.8" cy="54.2" r="0.92"/>
<circle cx="316.6" cy="86.5" r="0.92"/>
<circle cx="336.8" cy="70.8" r="0.92"/>
<circle cx="338.1" cy="73.3" r="0.92"/>
<circle cx="340.9" cy="83.7" r="0.92"/>
<circle cx="335.6" cy="72.5" r="0.92"/>
<circle cx="329.3" cy="66.7" r="0.92"/>
<circle cx="355.5" cy="80.6" r="0.92"/>
<circle cx="332.7" cy="80.2" r="0.92"/>
<circle cx="341.8" cy="82.8" r="0.92"/>
<circle cx="343.2" cy="78.9" r="0.92"/>
<circle cx="341.9" cy="88.5" r="0.92"/>
<circle cx="329.2" cy="73.9" r="0.92"/>
<circle cx="308.0" cy="83.8" r="0.92"/>
<circle cx="325.5" cy="88.4" r="0.92"/>
<circle cx="311.9" cy="77.7" r="0.92"/>
<circle cx="331.2" cy="84.0" r="0.92"/>
<circle cx="321.8" cy="72.1" r="0.92"/>
<circle cx="328.9" cy="88.1" r="0.92"/>
<circle cx="333.3" cy="76.6" r="0.92"/>
<circle cx="317.0" cy="75.0" r="0.92"/>
<circle cx="327.5" cy="79.4" r="0.92"/>
<circle cx="337.9" cy="84.0" r="0.92"/>
<circle cx="318.4" cy="80.9" r="0.92"/>
<circle cx="325.7" cy="69.6" r="0.92"/>
<circle cx="308.0" cy="82.4" r="0.92"/>
<circle cx="328.2" cy="88.5" r="0.92"/>
<circle cx="329.7" cy="76.8" r="0.92"/>
<circle cx="310.3" cy="72.6" r="0.92"/>
<circle cx="335.9" cy="58.5" r="0.92"/>
<circle cx="333.5" cy="71.1" r="0.92"/>
<circle cx="329.9" cy="84.8" r="0.92"/>
<circle cx="320.0" cy="81.1" r="0.92"/>
<circle cx="311.0" cy="86.3" r="0.92"/>
<circle cx="337.7" cy="68.7" r="0.92"/>
<circle cx="336.9" cy="78.4" r="0.92"/>
<circle cx="342.3" cy="81.0" r="0.92"/>
<circle cx="346.2" cy="84.4" r="0.92"/>
<circle cx="340.6" cy="74.1" r="0.92"/>
<circle cx="350.7" cy="69.3" r="0.92"/>
<circle cx="322.1" cy="69.8" r="0.92"/>
<circle cx="324.9" cy="73.7" r="0.92"/>
<circle cx="326.7" cy="85.6" r="0.92"/>
<circle cx="312.8" cy="90.0" r="0.92"/>
<circle cx="325.0" cy="79.0" r="0.92"/>
<circle cx="334.4" cy="29.9" r="0.92"/>
<circle cx="339.6" cy="39.5" r="0.92"/>
<circle cx="351.1" cy="49.0" r="0.92"/>
<circle cx="351.1" cy="60.1" r="0.92"/>
<circle cx="350.6" cy="65.7" r="0.92"/>
<circle cx="286.7" cy="84.0" r="0.92"/>
<circle cx="297.2" cy="95.1" r="0.92"/>
<circle cx="364.2" cy="76.0" r="0.92"/>
<circle cx="363.7" cy="82.4" r="0.92"/>
<circle cx="292.0" cy="77.6" r="0.92"/>
<circle cx="293.0" cy="79.2" r="0.92"/>
<circle cx="357.9" cy="85.6" r="0.92"/>
<circle cx="361.1" cy="84.8" r="0.92"/>
<circle cx="356.9" cy="77.6" r="0.92"/>
<circle cx="298.3" cy="90.3" r="0.92"/>
<circle cx="302.4" cy="89.5" r="0.92"/>
</g>
<line x1="283.4" y1="81.8" x2="367.3" y2="72.5" stroke="#e06868" stroke-width="0.55"/>
<rect x="283.4" y="27.5" width="83.9" height="69.9" fill="none" stroke="#707070" stroke-width="0.65"/>
<path d="M299.3 97.4v2M320.2 97.4v2M341.2 97.4v2M362.1 97.4v2M283.4 81.6h-2M283.4 65.7h-2M283.4 49.8h-2M283.4 33.9h-2" stroke="#707070" stroke-width="0.6"/>
<text x="299.3" y="106.3" font-size="5.6" text-anchor="middle" stroke="#111" stroke-width="0.1">6</text>
<text x="320.2" y="106.3" font-size="5.6" text-anchor="middle" stroke="#111" stroke-width="0.1">8</text>
<text x="341.2" y="106.3" font-size="5.6" text-anchor="middle" stroke="#111" stroke-width="0.1">10</text>
<text x="362.1" y="106.3" font-size="5.6" text-anchor="middle" stroke="#111" stroke-width="0.1">12</text>
<text x="277.6" y="81.6" font-size="5.6" text-anchor="middle" transform="rotate(-90 277.6 81.6)" stroke="#111" stroke-width="0.1">4</text>
<text x="277.6" y="65.7" font-size="5.6" text-anchor="middle" transform="rotate(-90 277.6 65.7)" stroke="#111" stroke-width="0.1">5</text>
<text x="277.6" y="49.8" font-size="5.6" text-anchor="middle" transform="rotate(-90 277.6 49.8)" stroke="#111" stroke-width="0.1">6</text>
<text x="277.6" y="33.9" font-size="5.6" text-anchor="middle" transform="rotate(-90 277.6 33.9)" stroke="#111" stroke-width="0.1">7</text>
<text x="328.5" y="114.3" font-size="5.75" text-anchor="middle" stroke="#111" stroke-width="0.1">mRNA expression (log<tspan font-size="3.6" dy="1.2">2</tspan><tspan dy="-1.2">)</tspan></text>
<text x="327.7" y="120.5" font-size="5.6" text-anchor="middle" stroke="#111" stroke-width="0.1">of CCL2</text>
<text x="262.2" y="58.7" font-size="5.55" text-anchor="middle" transform="rotate(-90 262.2 58.7)" stroke="#111" stroke-width="0.1">mRNA expression (log<tspan font-size="3.6" dy="1.2">2</tspan><tspan dy="-1.2">)</tspan></text>
<text x="269.2" y="58.6" font-size="5.55" text-anchor="middle" transform="rotate(-90 269.2 58.6)" stroke="#111" stroke-width="0.1">of CCR10</text>
<text x="327.0" y="23.0" font-size="5.6" text-anchor="middle" stroke="#111" stroke-width="0.1" xml:space="preserve"><tspan font-style="italic">r</tspan> = 0.17   <tspan font-style="italic">P</tspan> = 3.55 x 10<tspan font-size="3.6" dy="-2">-3</tspan></text>
</g>
<g id="km">
<path d="M402.3 24.8H402.4V25.1H402.7V26.0H403.5V28.5H403.6V28.6H404.7V30.8H406.4V33.0H407.2V34.1H411.0V40.4H412.2V42.8H412.4V43.3H413.9V46.6H417.1V53.7H417.1V53.7H422.8V65.0H425.1V67.4H429.0V70.9H429.8V71.4H432.4V72.9H432.7V73.1H433.0V73.3H436.3V74.7H438.0V75.2H440.3V75.8H445.7V77.2H447.2V77.7H449.9V78.6H450.0V78.6H451.0V79.0H451.5V79.1H455.5V80.1H461.1V81.0H461.7V81.1H464.7V81.6H467.0V82.0H472.9V82.8H478.0V83.7H478.1V83.7H482.2V85.5H482.6V85.6H484.2V86.3H484.2V86.3H490.6V88.9H492.8V89.0H497.5V89.1H502.3V89.2H503.0V89.2" stroke="#e02020" stroke-width="0.8" fill="none"/>
<path d="M402.3 24.8H402.4V25.0H402.5V25.3H402.7V25.8H402.9V26.4H403.0V26.5H403.0V26.6H403.4V27.6H403.5V27.9H404.0V29.0H404.4V29.6H407.2V32.8H407.5V33.2H407.8V33.7H409.8V36.4H410.7V37.6H412.4V39.8H415.8V45.2H416.5V46.2H417.1V46.9H417.7V47.9H418.1V48.3H419.5V50.3H421.2V52.3H421.3V52.5H423.5V55.1H424.2V56.0H426.3V57.4H426.5V57.6H427.0V57.9H428.5V58.9H431.4V61.2H432.0V61.7H436.1V64.4H436.3V64.5H437.7V64.9H437.8V65.0H440.8V65.7H442.0V66.0H443.2V66.3H443.7V66.5H444.4V66.7H444.9V66.8H445.0V66.8H446.3V67.1H446.7V67.2H448.0V67.6H448.5V67.7H448.7V67.7H449.2V67.9H450.1V68.1H450.7V68.2H452.1V68.6H455.5V69.5H456.5V69.7H456.9V69.8H460.1V70.6H461.0V70.9H461.6V71.0H461.9V71.1H468.4V72.3H472.9V72.7H477.3V72.8H480.5V72.8H480.9V72.8H481.5V72.8H482.6V72.8H483.3V72.8H484.5V72.8H486.9V72.9H488.0V72.9H488.1V72.9H491.8V72.9H493.6V72.9H496.4V72.9H497.4V72.9H499.5V72.9H499.9V73.3H501.4V74.8H501.6V75.0H502.8V76.0H503.0V76.2" stroke="#1a1ad0" stroke-width="0.9" fill="none"/>
<path d="M403.1 28.6h1.8M404.0 27.7v1.8M404.8 30.8h1.8M405.7 29.9v1.8M408.2 34.1h1.8M409.1 33.2v1.8M411.6 43.3h1.8M412.5 42.4v1.8M416.8 53.7h1.8M417.7 52.8v1.8M420.2 53.7h1.8M421.1 52.8v1.8M425.3 67.4h1.8M426.2 66.5v1.8M433.8 73.3h1.8M434.7 72.4v1.8M439.0 75.2h1.8M439.9 74.3v1.8M445.8 77.2h1.8M446.7 76.3v1.8M457.7 80.1h1.8M458.6 79.2v1.8M471.4 82.0h1.8M472.3 81.1v1.8M481.6 85.5h1.8M482.5 84.6v1.8M490.2 88.9h1.8M491.1 88.0v1.8M495.3 89.0h1.8M496.2 88.1v1.8M500.4 89.1h1.8M501.3 88.2v1.8" stroke="#e02020" stroke-width="0.6"/>
<path d="M402.2 26.6h2M403.2 25.6v2M403.0 29.0h2M404.0 28.0v2M403.9 29.6h2M404.9 28.6v2M404.7 29.6h2M405.7 28.6v2M406.4 32.8h2M407.4 31.8v2M408.1 33.7h2M409.1 32.7v2M409.8 37.6h2M410.8 36.6v2M411.5 39.8h2M412.5 38.8v2M413.2 39.8h2M414.2 38.8v2M415.0 45.2h2M416.0 44.2v2M416.7 46.9h2M417.7 45.9v2M418.4 48.3h2M419.4 47.3v2M420.1 50.3h2M421.1 49.3v2M421.8 52.5h2M422.8 51.5v2M423.5 56.0h2M424.5 55.0v2M425.2 56.0h2M426.2 55.0v2M428.6 58.9h2M429.6 57.9v2M432.0 61.7h2M433.0 60.7v2M435.4 64.5h2M436.4 63.5v2M438.9 65.0h2M439.9 64.0v2M442.3 66.3h2M443.3 65.3v2M444.0 66.8h2M445.0 65.8v2M447.4 67.6h2M448.4 66.6v2M450.8 68.2h2M451.8 67.2v2M454.2 68.6h2M455.2 67.6v2M459.3 70.6h2M460.3 69.6v2M464.5 71.1h2M465.5 70.1v2M469.6 72.3h2M470.6 71.3v2M473.0 72.7h2M474.0 71.7v2M476.4 72.8h2M477.4 71.8v2M479.8 72.8h2M480.8 71.8v2M483.2 72.8h2M484.2 71.8v2M484.9 72.8h2M485.9 71.8v2M490.1 72.9h2M491.1 71.9v2M493.5 72.9h2M494.5 71.9v2M496.9 72.9h2M497.9 71.9v2M498.6 72.9h2M499.6 71.9v2M500.3 73.3h2M501.3 72.3v2M502.0 76.2h2M503.0 75.2v2" stroke="#1a1ad0" stroke-width="0.7"/>
<path d="M398.3 22.9V101H507.9" stroke="#6a6a6a" stroke-width="0.65" fill="none"/>
<path d="M398.3 97.2h-1.6M398.3 79.1h-1.6M398.3 61.0h-1.6M398.3 42.9h-1.6M398.3 24.8h-1.6M402.3 101v1.6M419.4 101v1.6M436.4 101v1.6M453.5 101v1.6M470.6 101v1.6M487.7 101v1.6M504.7 101v1.6" stroke="#222" stroke-width="0.6"/>
<text x="395.4" y="99.0" font-size="5" text-anchor="end" stroke="#111" stroke-width="0.1">0.00</text>
<text x="395.4" y="80.9" font-size="5" text-anchor="end" stroke="#111" stroke-width="0.1">0.25</text>
<text x="395.4" y="62.8" font-size="5" text-anchor="end" stroke="#111" stroke-width="0.1">0.50</text>
<text x="395.4" y="44.7" font-size="5" text-anchor="end" stroke="#111" stroke-width="0.1">0.75</text>
<text x="395.4" y="26.6" font-size="5" text-anchor="end" stroke="#111" stroke-width="0.1">1.00</text>
<text x="402.3" y="108.3" font-size="5" text-anchor="middle" stroke="#111" stroke-width="0.1">0</text>
<text x="419.4" y="108.3" font-size="5" text-anchor="middle" stroke="#111" stroke-width="0.1">10</text>
<text x="436.4" y="108.3" font-size="5" text-anchor="middle" stroke="#111" stroke-width="0.1">20</text>
<text x="453.5" y="108.3" font-size="5" text-anchor="middle" stroke="#111" stroke-width="0.1">30</text>
<text x="470.6" y="108.3" font-size="5" text-anchor="middle" stroke="#111" stroke-width="0.1">40</text>
<text x="487.7" y="108.3" font-size="5" text-anchor="middle" stroke="#111" stroke-width="0.1">50</text>
<text x="504.7" y="108.3" font-size="5" text-anchor="middle" stroke="#111" stroke-width="0.1">60</text>
<text x="456.3" y="116.4" font-size="5.8" text-anchor="middle" stroke="#111" stroke-width="0.1">DFS (months)</text>
<text x="382.0" y="60.0" font-size="5.5" text-anchor="middle" transform="rotate(-90 382.0 60.0)" stroke="#111" stroke-width="0.1">Survival probability</text>
<path d="M450.5 28.8h4.9M452.9 27.7v2.2" stroke="#e02020" stroke-width="0.8"/>
<text x="457.3" y="30.8" font-size="5.6" stroke="#111" stroke-width="0.1">CCL2+/CCR10+ (<tspan font-style="italic">n</tspan> = 59)</text>
<path d="M450.5 37.3h4.9M452.9 36.2v2.2" stroke="#1a1ad0" stroke-width="0.8"/>
<text x="457.3" y="39.3" font-size="5.6" stroke="#111" stroke-width="0.1">Others (<tspan font-style="italic">n</tspan> = 172)</text>
<text x="402.3" y="90.0" font-size="4.6" stroke="#111" stroke-width="0.22">HR = 1.609 (1.138–2.276)</text>
<text x="402.3" y="96.0" font-size="4.6" stroke="#111" stroke-width="0.22"><tspan font-style="italic">P</tspan> = 0.007</text>
</g>
<g id="panelE"><defs>
<filter id="tex" x="0" y="0" width="100%" height="100%">
<feTurbulence type="fractalNoise" baseFrequency="0.4" numOctaves="3" seed="4" result="n"/>
<feColorMatrix in="n" type="matrix" values="0 0 0 0 1  0 0 0 0 1  0 0 0 0 1  3.2 0 0 0 -1.45" result="m"/>
<feComposite in="m" in2="SourceGraphic" operator="in" result="spots"/>
<feMerge><feMergeNode in="SourceGraphic"/><feMergeNode in="spots"/></feMerge>
</filter>
<filter id="tex2" x="0" y="0" width="100%" height="100%">
<feTurbulence type="fractalNoise" baseFrequency="0.09" numOctaves="2" seed="11" result="n"/>
<feColorMatrix in="n" type="matrix" values="0 0 0 0 0.55  0 0 0 0 0.16  0 0 0 0 0.6  0 3.4 0 0 -1.3" result="m"/>
<feComposite in="m" in2="SourceGraphic" operator="in"/>
</filter>
<filter id="blur4" x="-50%" y="-50%" width="200%" height="200%"><feGaussianBlur stdDeviation="4"/></filter>
<clipPath id="tclip"><polygon points="263.0,162.5 264.5,158.3 268.0,156.0 273.1,154.6 279.0,153.2 284.6,152.3 289.5,150.6 293.9,148.2 296.8,146.0 299.7,144.7 303.5,143.6 307.7,143.1 310.0,144.0 311.9,145.4 314.0,144.0 315.8,143.1 317.8,144.2 319.3,144.9 319.6,142.5 320.0,140.3 323.0,138.6 326.2,137.6 332.0,138.6 337.8,138.9 344.0,139.6 349.3,139.6 353.0,138.5 355.8,138.0 356.6,140.5 357.0,146.5 355.8,151.0 354.5,156.0 353.6,162.0 351.5,164.2 349.9,165.5 349.4,173.5 348.4,179.0 347.5,184.0 346.6,190.0 346.0,195.0 345.4,200.5 344.7,209.0 346.5,218.5 349.2,229.2 351.2,238.6 349.6,245.0 348.6,250.0 348.3,254.9 343.8,255.5 335.8,253.5 327.7,255.5 322.0,256.2 316.9,256.8 312.5,259.5 309.0,262.3 306.9,260.2 302.8,253.4 298.7,248.0 295.0,244.0 291.9,239.9 288.5,230.3 287.1,222.2 282.4,215.4 277.0,208.6 273.0,205.0 270.8,201.8 269.3,195.0 268.2,185.6 270.6,180.0 273.3,174.2 270.2,172.4 266.5,169.6 263.7,166.8"/></clipPath>
<linearGradient id="tg" x1="0" y1="0" x2="0" y2="1"><stop offset="0" stop-color="#ac2ea8"/><stop offset="0.4" stop-color="#bd49b9"/><stop offset="0.7" stop-color="#c455be"/><stop offset="1" stop-color="#b743b2"/></linearGradient>
<linearGradient id="ag" x1="0" y1="0" x2="0" y2="1"><stop offset="0" stop-color="#e8ecfa"/><stop offset="1" stop-color="#7d9ee6"/></linearGradient>
<linearGradient id="bg1" x1="0" y1="0" x2="0" y2="1"><stop offset="0" stop-color="#c2cef6"/><stop offset="1" stop-color="#88a1eb"/></linearGradient>
<linearGradient id="bg3" x1="0" y1="0" x2="0" y2="1"><stop offset="0" stop-color="#e9edfb"/><stop offset="1" stop-color="#98aeee"/></linearGradient>
<linearGradient id="bg2" x1="0" y1="0" x2="0" y2="1"><stop offset="0" stop-color="#92a8ec"/><stop offset="1" stop-color="#e4e9fa"/></linearGradient>
</defs>
<polygon points="263.0,162.5 264.5,158.3 268.0,156.0 273.1,154.6 279.0,153.2 284.6,152.3 289.5,150.6 293.9,148.2 296.8,146.0 299.7,144.7 303.5,143.6 307.7,143.1 310.0,144.0 311.9,145.4 314.0,144.0 315.8,143.1 317.8,144.2 319.3,144.9 319.6,142.5 320.0,140.3 323.0,138.6 326.2,137.6 332.0,138.6 337.8,138.9 344.0,139.6 349.3,139.6 353.0,138.5 355.8,138.0 356.6,140.5 357.0,146.5 355.8,151.0 354.5,156.0 353.6,162.0 351.5,164.2 349.9,165.5 349.4,173.5 348.4,179.0 347.5,184.0 346.6,190.0 346.0,195.0 345.4,200.5 344.7,209.0 346.5,218.5 349.2,229.2 351.2,238.6 349.6,245.0 348.6,250.0 348.3,254.9 343.8,255.5 335.8,253.5 327.7,255.5 322.0,256.2 316.9,256.8 312.5,259.5 309.0,262.3 306.9,260.2 302.8,253.4 298.7,248.0 295.0,244.0 291.9,239.9 288.5,230.3 287.1,222.2 282.4,215.4 277.0,208.6 273.0,205.0 270.8,201.8 269.3,195.0 268.2,185.6 270.6,180.0 273.3,174.2 270.2,172.4 266.5,169.6 263.7,166.8" fill="url(#tg)" stroke="#c468c0" stroke-width="0.8" stroke-linejoin="round"/>
<g clip-path="url(#tclip)">
<polygon points="263.0,162.5 264.5,158.3 268.0,156.0 273.1,154.6 279.0,153.2 284.6,152.3 289.5,150.6 293.9,148.2 296.8,146.0 299.7,144.7 303.5,143.6 307.7,143.1 310.0,144.0 311.9,145.4 314.0,144.0 315.8,143.1 317.8,144.2 319.3,144.9 319.6,142.5 320.0,140.3 323.0,138.6 326.2,137.6 332.0,138.6 337.8,138.9 344.0,139.6 349.3,139.6 353.0,138.5 355.8,138.0 356.6,140.5 357.0,146.5 355.8,151.0 354.5,156.0 353.6,162.0 351.5,164.2 349.9,165.5 349.4,173.5 348.4,179.0 347.5,184.0 346.6,190.0 346.0,195.0 345.4,200.5 344.7,209.0 346.5,218.5 349.2,229.2 351.2,238.6 349.6,245.0 348.6,250.0 348.3,254.9 343.8,255.5 335.8,253.5 327.7,255.5 322.0,256.2 316.9,256.8 312.5,259.5 309.0,262.3 306.9,260.2 302.8,253.4 298.7,248.0 295.0,244.0 291.9,239.9 288.5,230.3 287.1,222.2 282.4,215.4 277.0,208.6 273.0,205.0 270.8,201.8 269.3,195.0 268.2,185.6 270.6,180.0 273.3,174.2 270.2,172.4 266.5,169.6 263.7,166.8" fill="#f0b8e6" filter="url(#tex)" opacity="0.36"/>
<polygon points="263.0,162.5 264.5,158.3 268.0,156.0 273.1,154.6 279.0,153.2 284.6,152.3 289.5,150.6 293.9,148.2 296.8,146.0 299.7,144.7 303.5,143.6 307.7,143.1 310.0,144.0 311.9,145.4 314.0,144.0 315.8,143.1 317.8,144.2 319.3,144.9 319.6,142.5 320.0,140.3 323.0,138.6 326.2,137.6 332.0,138.6 337.8,138.9 344.0,139.6 349.3,139.6 353.0,138.5 355.8,138.0 356.6,140.5 357.0,146.5 355.8,151.0 354.5,156.0 353.6,162.0 351.5,164.2 349.9,165.5 349.4,173.5 348.4,179.0 347.5,184.0 346.6,190.0 346.0,195.0 345.4,200.5 344.7,209.0 346.5,218.5 349.2,229.2 351.2,238.6 349.6,245.0 348.6,250.0 348.3,254.9 343.8,255.5 335.8,253.5 327.7,255.5 322.0,256.2 316.9,256.8 312.5,259.5 309.0,262.3 306.9,260.2 302.8,253.4 298.7,248.0 295.0,244.0 291.9,239.9 288.5,230.3 287.1,222.2 282.4,215.4 277.0,208.6 273.0,205.0 270.8,201.8 269.3,195.0 268.2,185.6 270.6,180.0 273.3,174.2 270.2,172.4 266.5,169.6 263.7,166.8" fill="#7a2090" filter="url(#tex2)" opacity="0.85"/>
<g filter="url(#blur4)"><ellipse cx="339" cy="152" rx="17" ry="13" fill="#8c2090" opacity="0.5"/><ellipse cx="286" cy="159" rx="20" ry="8" fill="#9a2a9c" opacity="0.35"/><ellipse cx="289" cy="196" rx="15" ry="13" fill="#e69ad8" opacity="0.35"/><ellipse cx="322" cy="218" rx="22" ry="6" fill="#e8a0da" opacity="0.4" transform="rotate(-15 322 218)"/><ellipse cx="330" cy="248" rx="16" ry="7" fill="#9a2a9c" opacity="0.3"/></g>
<g stroke="#e6add9" stroke-width="1.1" fill="none" opacity="0.6" stroke-linecap="round">
<path d="M322 150 Q326 175 333 196 T341 222"/>
<path d="M306 222 Q322 221 345 214"/>
<path d="M325 236 Q336 234 349 238"/>
<path d="M276 186 Q290 196 298 215"/>
<path d="M332 196 Q340 190 347 186"/>
<path d="M300 170 Q310 180 316 200" stroke-width="0.8"/>
</g>
<ellipse cx="338" cy="206.8" rx="2.1" ry="3.4" fill="#4a22a0"/>
<ellipse cx="338" cy="206.8" rx="3.2" ry="4.6" fill="#6a35b0" opacity="0.4"/>
</g>
<path d="M308.9 164.5H313.7V214.3H315.6L311.3 219.8L307 214.3H308.9Z" fill="url(#ag)"/>
<text x="308.6" y="155.0" font-size="5.8" text-anchor="middle" fill="#2a1030" stroke="#2a1030" stroke-width="0.3">Superficial</text>
<text x="308.6" y="161.4" font-size="5.8" text-anchor="middle" fill="#2a1030" stroke="#2a1030" stroke-width="0.3">layer</text>
<text x="310.9" y="228.3" font-size="5.8" text-anchor="middle" fill="#2a1030" stroke="#2a1030" stroke-width="0.3">Deep</text>
<text x="310.7" y="235.6" font-size="5.8" text-anchor="middle" fill="#2a1030" stroke="#2a1030" stroke-width="0.3">layer</text>
<path d="M328.3 234.6L305.6 269.5M338.7 234.6L503 269.5" stroke="#6e4a2a" stroke-width="0.8" fill="none"/>
<rect x="328.3" y="224" width="10.4" height="10.6" fill="none" stroke="#e01020" stroke-width="0.9"/>
<path d="M249.8 242l1.3 0.8l-1.1 0.9" stroke="#40a8a8" stroke-width="0.6" fill="none"/>
<text x="379.8" y="145.3" font-size="5.65" text-anchor="middle" stroke="#111" stroke-width="0.1">Specific</text><text x="379.8" y="151.6" font-size="5.65" text-anchor="middle" stroke="#111" stroke-width="0.1">subtypes of</text><text x="379.8" y="157.9" font-size="5.65" text-anchor="middle" stroke="#111" stroke-width="0.1">stromal cells</text>
<polygon points="379.3,161.8 389.4,236.5 368.8,236.5" fill="url(#bg1)"/>
<text x="378.8" y="225.7" font-size="5.65" text-anchor="middle" fill="#2a52d8" stroke="#2a52d8" stroke-width="0.1">Endo3</text><text x="378.8" y="232.3" font-size="5.65" text-anchor="middle" fill="#2a52d8" stroke="#2a52d8" stroke-width="0.1">Fibro1</text>
<text x="416.3" y="145.3" font-size="5.65" text-anchor="middle" stroke="#111" stroke-width="0.1">Cytokine</text><text x="416.3" y="151.6" font-size="5.65" text-anchor="middle" stroke="#111" stroke-width="0.1">gradient</text>
<polygon points="416.3,158.3 426.4,239 406.8,239" fill="url(#bg1)"/>
<text x="416.3" y="221.6" font-size="5.65" text-anchor="middle" fill="#2a52d8" stroke="#2a52d8" stroke-width="0.1">CCL2</text><text x="416.3" y="227.9" font-size="5.65" text-anchor="middle" fill="#2a52d8" stroke="#2a52d8" stroke-width="0.1">CCL20</text><text x="416.3" y="234.2" font-size="5.65" text-anchor="middle" fill="#2a52d8" stroke="#2a52d8" stroke-width="0.1">CXCL12</text>
<text x="450.8" y="145.3" font-size="5.65" text-anchor="middle" stroke="#111" stroke-width="0.1">Tumor</text><text x="450.8" y="151.6" font-size="5.65" text-anchor="middle" stroke="#111" stroke-width="0.1">immunity</text>
<polygon points="441.3,158.3 460.9,158.3 451.1,224" fill="url(#bg2)"/>
<text x="450.8" y="164.7" font-size="5.65" text-anchor="middle" fill="#2a52d8" stroke="#2a52d8" stroke-width="0.1">Naïve or</text><text x="450.8" y="171.0" font-size="5.65" text-anchor="middle" fill="#2a52d8" stroke="#2a52d8" stroke-width="0.1">cytotoxic T</text><text x="450.8" y="177.3" font-size="5.65" text-anchor="middle" fill="#2a52d8" stroke="#2a52d8" stroke-width="0.1">cells</text>
<text x="450.8" y="222.9" font-size="5.65" text-anchor="middle" fill="#2a52d8" stroke="#2a52d8" stroke-width="0.1">MM1/MM3</text><text x="450.8" y="229.2" font-size="5.65" text-anchor="middle" fill="#2a52d8" stroke="#2a52d8" stroke-width="0.1">ADC cells</text><text x="450.8" y="235.5" font-size="5.65" text-anchor="middle" fill="#2a52d8" stroke="#2a52d8" stroke-width="0.1">Treg cells</text>
<text x="495.8" y="145.3" font-size="5.65" text-anchor="middle" stroke="#111" stroke-width="0.1">Malignant</text><text x="495.8" y="151.6" font-size="5.65" text-anchor="middle" stroke="#111" stroke-width="0.1">cells</text>
<path d="M490.9 158.3H500.6V212H505.3L495.8 223L486.3 212H490.9Z" fill="url(#bg3)"/>
<text x="495.8" y="229.4" font-size="5.65" text-anchor="middle" fill="#2a52d8" stroke="#2a52d8" stroke-width="0.1">Aggressiveness</text><text x="495.8" y="235.7" font-size="5.65" text-anchor="middle" fill="#2a52d8" stroke="#2a52d8" stroke-width="0.1">gene sets</text>
<rect x="305.6" y="269.5" width="197.4" height="117.9" fill="#fff" stroke="#6b4526" stroke-width="1.25"/>
<path d="M322.8 288.0C326.8 290.0 339.5 297.1 346.5 300.1C353.5 303.2 358.7 304.7 364.8 306.3C370.9 307.9 376.9 309.0 383.0 310.0C389.1 311.0 396.3 311.8 401.3 312.2C406.3 312.6 408.1 312.8 413.0 312.6C417.9 312.4 424.2 312.1 430.4 311.2C436.6 310.3 442.7 309.2 450.0 307.1C457.3 305.0 468.9 300.4 474.4 298.3C479.9 296.2 481.4 295.2 482.8 294.6" stroke="#c8a71c" stroke-width="1.1" fill="none"/>
<path d="M325.3 353.8C328.5 352.0 337.7 345.9 344.3 342.9C350.9 339.9 358.4 337.6 364.8 336.0C371.2 334.4 376.9 334.1 383.0 333.5C389.1 332.9 395.2 332.6 401.3 332.3C407.4 332.0 413.5 331.6 419.6 331.7C425.7 331.8 431.8 331.9 437.9 332.6C444.0 333.3 450.3 334.3 456.1 336.0C461.9 337.7 467.2 340.6 472.7 343.0C478.2 345.4 486.3 349.2 489.0 350.4" stroke="#868e55" stroke-width="0.9" fill="none"/>
<text x="361.5" y="285.3" font-size="6.45" text-anchor="middle" fill="#d21f2d" stroke="#d21f2d" stroke-width="0.1">CAFs</text><text x="361.5" y="292.5" font-size="6.45" text-anchor="middle" fill="#d21f2d" stroke="#d21f2d" stroke-width="0.1">(Fibro1)</text>
<text x="409.2" y="283.9" font-size="6.45" text-anchor="middle" fill="#d21f2d" stroke="#d21f2d" stroke-width="0.1">Endothelial cells</text><text x="409.2" y="291.1" font-size="6.45" text-anchor="middle" fill="#d21f2d" stroke="#d21f2d" stroke-width="0.1">(Endo3)</text>
<text x="460.3" y="283.9" font-size="6.45" text-anchor="middle" fill="#d21f2d" stroke="#d21f2d" stroke-width="0.1">Myeloid cells</text><text x="460.3" y="291.1" font-size="6.45" text-anchor="middle" fill="#d21f2d" stroke="#d21f2d" stroke-width="0.1">(MM1/MM3)</text>
<path d="M355.5 299.2Q364 297.6 369.5 299.6Q376 298.6 383.5 301.9Q375 302.6 369 301.7Q362 302.2 355.5 299.2Z" fill="#4a4f57"/>
<rect x="398" y="298.2" width="11.6" height="7" rx="2.2" fill="#b4694c"/>
<ellipse cx="403.8" cy="301.7" rx="2.5" ry="1.7" fill="#8f4a34"/>
<rect x="411.3" y="298.2" width="11.6" height="7" rx="2.2" fill="#b4694c"/>
<ellipse cx="417.1" cy="301.7" rx="2.5" ry="1.7" fill="#8f4a34"/>
<path d="M439.6 298.2q0.6-2.6 2.8-2.2q1.6-1.6 3 0.2q2.4 0 1.8 2.2q1.4 1.6-0.6 2.8q-0.4 2-2.6 1.2q-2 1.2-3-0.6q-2.2-0.4-1.4-2.2q-0.8-0.8 0-1.4z" fill="#c9b23c"/>
<path d="M441.6 297.6q1.4-1 2.6 0.2q0.8 1.4-0.6 2.2q-1.6 0.4-2.2-0.8q-0.4-0.9 0.2-1.6z" fill="#9c8420"/>
<ellipse cx="347.3" cy="311.8" rx="2.9" ry="1.8" fill="#b4dc8c"/><ellipse cx="347.3" cy="311.8" rx="1.4" ry="0.8" fill="#98cc6c"/>
<ellipse cx="375.7" cy="320.6" rx="2.9" ry="1.8" fill="#efe04a"/><ellipse cx="375.7" cy="320.6" rx="1.4" ry="0.8" fill="#dcc838"/>
<ellipse cx="396.3" cy="320.7" rx="2.9" ry="1.8" fill="#efe04a"/><ellipse cx="396.3" cy="320.7" rx="1.4" ry="0.8" fill="#dcc838"/>
<ellipse cx="420.2" cy="321.6" rx="2.9" ry="1.8" fill="#8ba4e2"/><ellipse cx="420.2" cy="321.6" rx="1.4" ry="0.8" fill="#6a84cc"/>
<ellipse cx="447.7" cy="316.2" rx="2.9" ry="1.8" fill="#8ba4e2"/><ellipse cx="447.7" cy="316.2" rx="1.4" ry="0.8" fill="#6a84cc"/>
<ellipse cx="439.6" cy="324.2" rx="2.9" ry="1.8" fill="#8ba4e2"/><ellipse cx="439.6" cy="324.2" rx="1.4" ry="0.8" fill="#6a84cc"/>
<text x="332.0" y="315.3" font-size="4.9" text-anchor="middle" font-weight="bold" stroke="#111" stroke-width="0.1">CCL20</text>
<text x="361.5" y="323.2" font-size="4.9" text-anchor="middle" font-weight="bold" stroke="#111" stroke-width="0.1">CCL2</text>
<text x="424.8" y="317.2" font-size="4.9" text-anchor="middle" font-weight="bold" stroke="#111" stroke-width="0.1">CCL21</text>
<text x="465.5" y="325.5" font-size="4.9" text-anchor="middle" font-weight="bold" stroke="#111" stroke-width="0.1">CXCL12</text>
<g transform="translate(357.3 336.8) rotate(-28) scale(0.9)" fill="none" stroke-linecap="round"><path d="M-5.3 -4.6Q-4.6 -0.2 0 0.2Q4.6 -0.2 5.3 -4.6" stroke="#8a5232" stroke-width="1.25"/><path d="M-4.2 -3.8L-5.6 -4.9M4.2 -3.8L5.6 -4.9" stroke="#8a5232" stroke-width="1.0"/><path d="M0 0V4.4" stroke="#8a5232" stroke-width="2.125"/><path d="M-0.7 1.2L0.7 2.2L-0.7 3.2" stroke="#2a1608" stroke-width="0.6"/></g>
<path d="M352 337.8L357.3 336.8L361 339.8" stroke="#d08658" stroke-width="1" fill="none" stroke-linecap="round"/>
<g transform="translate(382.7 331.6) rotate(-6) scale(1.1)" fill="none" stroke-linecap="round"><path d="M-5.3 -4.6Q-4.6 -0.2 0 0.2Q4.6 -0.2 5.3 -4.6" stroke="#35a548" stroke-width="1.25"/><path d="M-4.2 -3.8L-5.6 -4.9M4.2 -3.8L5.6 -4.9" stroke="#35a548" stroke-width="1.0"/><path d="M0 0V4.4" stroke="#35a548" stroke-width="2.125"/><path d="M-0.7 1.2L0.7 2.2L-0.7 3.2" stroke="#0c4a18" stroke-width="0.6"/></g>
<g transform="translate(407.3 331.0) rotate(0) scale(1.0)" fill="none" stroke-linecap="round"><path d="M-5.3 -4.6Q-4.6 -0.2 0 0.2Q4.6 -0.2 5.3 -4.6" stroke="#59606a" stroke-width="1.25"/><path d="M-4.2 -3.8L-5.6 -4.9M4.2 -3.8L5.6 -4.9" stroke="#59606a" stroke-width="1.0"/><path d="M0 0V4.4" stroke="#59606a" stroke-width="2.125"/><path d="M-0.7 1.2L0.7 2.2L-0.7 3.2" stroke="#15181c" stroke-width="0.6"/></g>
<g transform="translate(435.0 332.8) rotate(8) scale(0.9)" fill="none" stroke-linecap="round"><path d="M-5.3 -4.6Q-4.6 -0.2 0 0.2Q4.6 -0.2 5.3 -4.6" stroke="#eba583" stroke-width="0.9"/><path d="M-4.2 -3.8L-5.6 -4.9M4.2 -3.8L5.6 -4.9" stroke="#eba583" stroke-width="0.7200000000000001"/><path d="M0 0V4.4" stroke="#eba583" stroke-width="1.53"/><path d="M-0.7 1.2L0.7 2.2L-0.7 3.2" stroke="#d04a30" stroke-width="0.6"/></g>
<g transform="translate(458.6 337.0) rotate(20) scale(0.85)" fill="none" stroke-linecap="round"><path d="M-5.3 -4.6Q-4.6 -0.2 0 0.2Q4.6 -0.2 5.3 -4.6" stroke="#4d535b" stroke-width="1.0"/><path d="M-4.2 -3.8L-5.6 -4.9M4.2 -3.8L5.6 -4.9" stroke="#4d535b" stroke-width="0.8"/><path d="M0 0V4.4" stroke="#4d535b" stroke-width="1.7"/><path d="M-0.7 1.2L0.7 2.2L-0.7 3.2" stroke="#111" stroke-width="0.6"/></g>
<text x="355.5" y="348.0" font-size="4.9" text-anchor="middle" font-weight="bold" stroke="#111" stroke-width="0.1">CXCR4</text>
<text x="378.5" y="343.8" font-size="4.9" text-anchor="middle" font-weight="bold" stroke="#111" stroke-width="0.1">CCR7</text>
<text x="403.2" y="343.0" font-size="4.9" text-anchor="middle" font-weight="bold" stroke="#111" stroke-width="0.1">CXCR10</text>
<text x="432.0" y="343.6" font-size="4.9" text-anchor="middle" font-weight="bold" stroke="#111" stroke-width="0.1">CXCR3</text>
<text x="455.8" y="348.8" font-size="4.9" text-anchor="middle" font-weight="bold" stroke="#111" stroke-width="0.1">CXCR4</text>
<path d="M332 360.6q0.2-4.2 5.4-4.8q3.2-0.4 5.6 0.6q4.6 0.2 4.8 4q0 3.6-4.6 4.4q-3 0.9-6.4 0.4q-4.8-0.6-4.8-4.6z" fill="#c47a4a" stroke="#8c4c2a" stroke-width="0.8"/>
<path d="M335.2 362.6q-0.4-4.4 3.8-4.6q3.2 0 3.6 2.8q-1.6-1.5-3.4-1q-2.2 0.8-1.6 3.6q-1.6 0.4-2.4-0.8z" fill="#6e3518"/>
<ellipse cx="344.2" cy="360" rx="1.8" ry="1.1" fill="#a85c30"/>
<text x="330.2" y="375.6" font-size="6.45" text-anchor="middle" fill="#d21f2d" stroke="#d21f2d" stroke-width="0.1">NK cells</text>
<g transform="rotate(-18 370.3 357.5)"><ellipse cx="370.3" cy="357.5" rx="4.5" ry="5.4" fill="#4da34c"/><ellipse cx="370.5" cy="357.3" rx="2.9" ry="3.7" fill="#a9d9a2"/><path d="M369 355.6q1.6-1.4 2.8 0q0.8 1.3-0.8 2q-1.4 0.7-0.4 1.9q0.9 0.8 2-0.2" stroke="#2e8636" stroke-width="0.9" fill="none"/></g>
<text x="365.5" y="371.2" font-size="6.45" text-anchor="middle" fill="#d21f2d" stroke="#d21f2d" stroke-width="0.1">T-cells</text>
<ellipse cx="408" cy="363.6" rx="6.7" ry="4.2" fill="#6f3012" transform="rotate(24 408 363.6)"/>
<ellipse cx="409" cy="364.2" rx="3.6" ry="2.1" fill="#d2741f" transform="rotate(24 409 364.2)"/>
<ellipse cx="409.4" cy="364.5" rx="1.5" ry="0.9" fill="#e89a3a" transform="rotate(24 409.4 364.5)"/>
<text x="408.2" y="374.5" font-size="6.45" text-anchor="middle" fill="#d21f2d" stroke="#d21f2d" stroke-width="0.1">Tumor cells</text>
<path d="M440.2 358.4q0.8-2.4 3-1.6q1.4-1.4 3 0.2q2.6-0.4 2.6 1.8q2.4 0.8 1.6 2.4q0.4 2-2 1.8q-1.2 1.6-3 0.4q-1.8 1.4-3-0.2q-2.6 0.2-2-2.2q-1.4-1.2-0.2-2.6z" fill="#f1f0b4"/>
<path d="M441.2 358.8q0.8-1.8 2.4-1q1.2-1 2.4 0.2q2-0.2 2 1.4q1.8 0.6 1.2 1.8q0.2 1.6-1.6 1.4q-1 1.2-2.4 0.4q-1.6 1-2.6-0.2q-2 0-1.6-1.8q-1-1 0.2-2.2z" fill="#c6be52"/>
<path d="M442.4 358.6q1.2-0.8 2.2 0.2q0.6 1-0.6 1.6q-1.4 0.2-1.8-0.6q-0.3-0.7 0.2-1.2zM446 360.4q1.2-0.4 1.8 0.4q0.2 0.8-0.8 1q-1 0.1-1.2-0.6q-0.1-0.5 0.2-0.8z" fill="#9a9a2c"/>
<text x="457.0" y="372.0" font-size="6.45" text-anchor="middle" fill="#d21f2d" stroke="#d21f2d" stroke-width="0.1">Macrophage</text></g>
<text x="3.3" y="9.9" font-size="12.2" fill="#000" font-weight="bold" stroke="#000" stroke-width="0.45">A</text><text x="116.9" y="9.9" font-size="11.7" fill="#000" font-weight="bold" stroke="#000" stroke-width="0.45">B</text><text x="2.6" y="221.9" font-size="12" fill="#000" font-weight="bold" stroke="#000" stroke-width="0.45">C</text><text x="253.3" y="10.0" font-size="12.2" fill="#000" font-weight="bold" stroke="#000" stroke-width="0.45">D</text><text x="253.0" y="134.5" font-size="12.2" fill="#000" font-weight="bold" stroke="#000" stroke-width="0.45">E</text>
</svg>
</body></html>
